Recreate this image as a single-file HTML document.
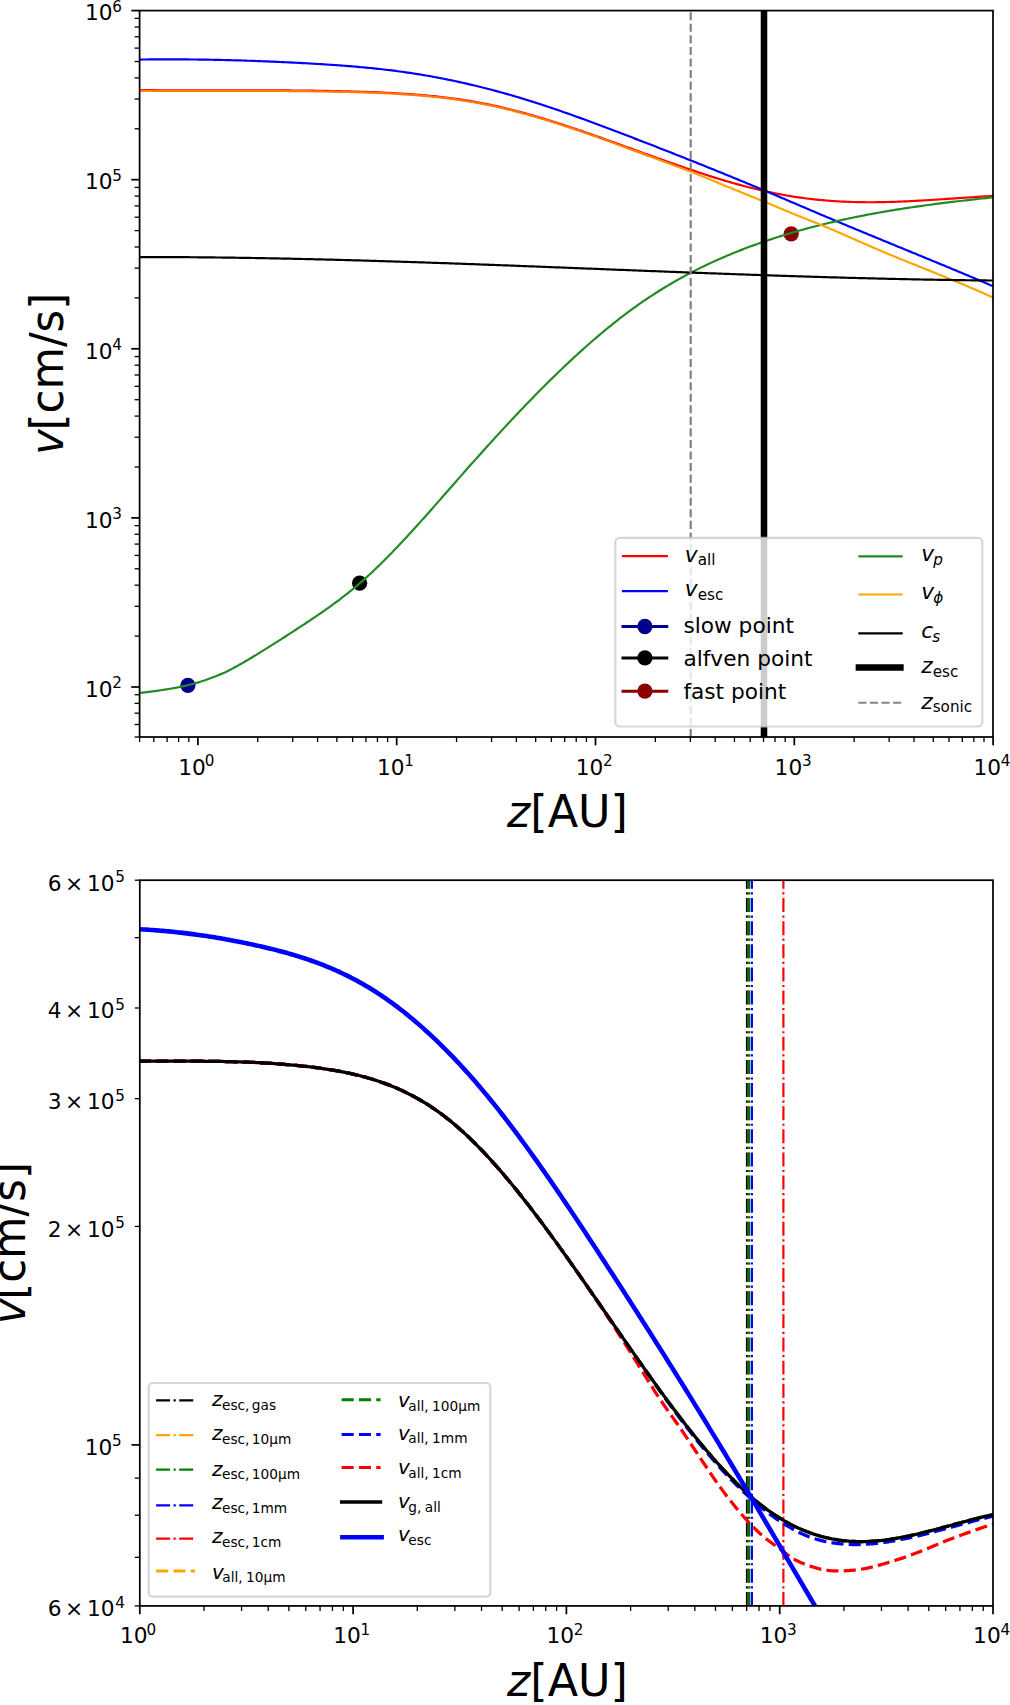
<!DOCTYPE html>
<html lang="en"><head><meta charset="utf-8"><title>wind velocity profiles</title>
<style>html,body{margin:0;padding:0;background:#fff}svg{display:block}</style></head>
<body>
<svg width="1010" height="1705" viewBox="0 0 1010 1705" font-family='"DejaVu Sans", "Liberation Sans", sans-serif' fill="#000">
<rect width="1010" height="1705" fill="#fff"/>
<defs><clipPath id="ct"><rect x="139.6" y="10.6" width="853.4" height="726.4"/></clipPath><clipPath id="cb"><rect x="139.8" y="880.2" width="853.2" height="725.7"/></clipPath><linearGradient id="og" gradientUnits="userSpaceOnUse" x1="620" y1="0" x2="710" y2="0"><stop offset="0" stop-color="#ff7c08"/><stop offset="1" stop-color="#ffa500"/></linearGradient></defs>
<g id="top-axes">
<g clip-path="url(#ct)" fill="none" stroke-linejoin="round">
<path d="M138.60 90.09 L140.59 90.11 L142.59 90.13 L144.58 90.14 L146.58 90.16 L148.57 90.17 L150.56 90.18 L152.56 90.19 L154.55 90.20 L156.55 90.21 L158.54 90.22 L160.53 90.23 L162.53 90.24 L164.52 90.25 L166.52 90.25 L168.51 90.26 L170.50 90.27 L172.50 90.27 L174.49 90.28 L176.48 90.28 L178.48 90.28 L180.47 90.29 L182.47 90.29 L184.46 90.29 L186.45 90.29 L188.45 90.29 L190.44 90.30 L192.44 90.30 L194.43 90.30 L196.42 90.30 L198.42 90.30 L200.41 90.30 L202.41 90.30 L204.40 90.30 L206.39 90.29 L208.39 90.29 L210.38 90.29 L212.38 90.29 L214.37 90.29 L216.36 90.29 L218.36 90.29 L220.35 90.29 L222.35 90.29 L224.34 90.28 L226.33 90.28 L228.33 90.28 L230.32 90.28 L232.32 90.28 L234.31 90.28 L236.30 90.28 L238.30 90.28 L240.29 90.28 L242.28 90.28 L244.28 90.28 L246.27 90.28 L248.27 90.29 L250.26 90.29 L252.25 90.29 L254.25 90.29 L256.24 90.30 L258.24 90.30 L260.23 90.31 L262.22 90.31 L264.22 90.32 L266.21 90.32 L268.21 90.33 L270.20 90.34 L272.19 90.35 L274.19 90.35 L276.18 90.36 L278.18 90.37 L280.17 90.38 L282.16 90.40 L284.16 90.41 L286.15 90.42 L288.15 90.44 L290.14 90.45 L292.13 90.47 L294.13 90.48 L296.12 90.50 L298.12 90.52 L300.11 90.54 L302.10 90.56 L304.10 90.58 L306.09 90.61 L308.08 90.63 L310.08 90.66 L312.07 90.68 L314.07 90.71 L316.06 90.74 L318.05 90.77 L320.05 90.80 L322.04 90.83 L324.04 90.87 L326.03 90.90 L328.02 90.94 L330.02 90.98 L332.01 91.02 L334.01 91.06 L336.00 91.10 L337.99 91.14 L339.99 91.19 L341.98 91.23 L343.98 91.28 L345.97 91.33 L347.96 91.38 L349.96 91.44 L351.95 91.49 L353.95 91.55 L355.94 91.61 L357.93 91.67 L359.93 91.73 L361.92 91.79 L363.92 91.85 L365.91 91.92 L367.90 91.99 L369.90 92.06 L371.89 92.14 L373.88 92.21 L375.88 92.29 L377.87 92.37 L379.87 92.46 L381.86 92.54 L383.85 92.63 L385.85 92.73 L387.84 92.82 L389.84 92.92 L391.83 93.03 L393.82 93.13 L395.82 93.25 L397.81 93.36 L399.81 93.48 L401.80 93.60 L403.79 93.73 L405.79 93.86 L407.78 93.99 L409.78 94.13 L411.77 94.28 L413.76 94.42 L415.76 94.58 L417.75 94.74 L419.75 94.90 L421.74 95.07 L423.73 95.24 L425.73 95.42 L427.72 95.61 L429.72 95.80 L431.71 95.99 L433.70 96.20 L435.70 96.40 L437.69 96.62 L439.68 96.84 L441.68 97.06 L443.67 97.30 L445.67 97.54 L447.66 97.78 L449.65 98.03 L451.65 98.29 L453.64 98.56 L455.64 98.83 L457.63 99.11 L459.62 99.40 L461.62 99.70 L463.61 100.00 L465.61 100.31 L467.60 100.63 L469.59 100.95 L471.59 101.28 L473.58 101.63 L475.58 101.98 L477.57 102.33 L479.56 102.70 L481.56 103.08 L483.55 103.46 L485.55 103.85 L487.54 104.25 L489.53 104.66 L491.53 105.08 L493.52 105.51 L495.52 105.94 L497.51 106.39 L499.50 106.84 L501.50 107.30 L503.49 107.77 L505.48 108.24 L507.48 108.73 L509.47 109.22 L511.47 109.71 L513.46 110.22 L515.45 110.73 L517.45 111.25 L519.44 111.78 L521.44 112.31 L523.43 112.85 L525.42 113.40 L527.42 113.95 L529.41 114.51 L531.41 115.08 L533.40 115.65 L535.39 116.23 L537.39 116.81 L539.38 117.40 L541.38 117.99 L543.37 118.60 L545.36 119.20 L547.36 119.81 L549.35 120.43 L551.35 121.05 L553.34 121.68 L555.33 122.31 L557.33 122.94 L559.32 123.58 L561.32 124.23 L563.31 124.87 L565.30 125.53 L567.30 126.18 L569.29 126.84 L571.28 127.51 L573.28 128.18 L575.27 128.85 L577.27 129.52 L579.26 130.20 L581.25 130.88 L583.25 131.57 L585.24 132.26 L587.24 132.95 L589.23 133.64 L591.22 134.34 L593.22 135.03 L595.21 135.73 L597.21 136.44 L599.20 137.14 L601.19 137.85 L603.19 138.56 L605.18 139.27 L607.18 139.98 L609.17 140.69 L611.16 141.41 L613.16 142.12 L615.15 142.84 L617.15 143.56 L619.14 144.28 L621.13 145.00 L623.13 145.72 L625.12 146.44 L627.12 147.16 L629.11 147.88 L631.10 148.60 L633.10 149.33 L635.09 150.05 L637.08 150.77 L639.08 151.49 L641.07 152.21 L643.07 152.93 L645.06 153.65 L647.05 154.37 L649.05 155.09 L651.04 155.81 L653.04 156.52 L655.03 157.24 L657.02 157.95 L659.02 158.67 L661.01 159.38 L663.01 160.09 L665.00 160.80 L666.99 161.50 L668.99 162.21 L670.98 162.91 L672.98 163.61 L674.97 164.31 L676.96 165.00 L678.96 165.70 L680.95 166.39 L682.95 167.08 L684.94 167.76 L686.93 168.44 L688.93 169.12 L690.92 169.80 L692.92 170.47 L694.91 171.14 L696.90 171.80 L698.90 172.47 L700.89 173.12 L702.88 173.77 L704.88 174.42 L706.87 175.07 L708.87 175.70 L710.86 176.34 L712.85 176.97 L714.85 177.59 L716.84 178.21 L718.84 178.82 L720.83 179.43 L722.82 180.03 L724.82 180.63 L726.81 181.22 L728.81 181.80 L730.80 182.38 L732.79 182.95 L734.79 183.52 L736.78 184.08 L738.78 184.63 L740.77 185.17 L742.76 185.71 L744.76 186.24 L746.75 186.76 L748.75 187.28 L750.74 187.79 L752.73 188.29 L754.73 188.78 L756.72 189.27 L758.72 189.75 L760.71 190.21 L762.70 190.68 L764.70 191.13 L766.69 191.57 L768.68 192.01 L770.68 192.43 L772.67 192.85 L774.67 193.26 L776.66 193.65 L778.65 194.04 L780.65 194.42 L782.64 194.79 L784.64 195.15 L786.63 195.50 L788.62 195.84 L790.62 196.17 L792.61 196.49 L794.61 196.80 L796.60 197.10 L798.59 197.40 L800.59 197.68 L802.58 197.95 L804.58 198.22 L806.57 198.47 L808.56 198.72 L810.56 198.95 L812.55 199.18 L814.55 199.40 L816.54 199.61 L818.53 199.81 L820.53 200.01 L822.52 200.19 L824.52 200.37 L826.51 200.53 L828.50 200.69 L830.50 200.84 L832.49 200.99 L834.48 201.12 L836.48 201.25 L838.47 201.36 L840.47 201.47 L842.46 201.58 L844.45 201.67 L846.45 201.76 L848.44 201.84 L850.44 201.91 L852.43 201.98 L854.42 202.03 L856.42 202.08 L858.41 202.12 L860.41 202.16 L862.40 202.19 L864.39 202.21 L866.39 202.22 L868.38 202.23 L870.38 202.23 L872.37 202.23 L874.36 202.22 L876.36 202.20 L878.35 202.18 L880.35 202.15 L882.34 202.11 L884.33 202.07 L886.33 202.03 L888.32 201.98 L890.32 201.92 L892.31 201.86 L894.30 201.80 L896.30 201.73 L898.29 201.66 L900.28 201.58 L902.28 201.50 L904.27 201.41 L906.27 201.32 L908.26 201.23 L910.25 201.13 L912.25 201.03 L914.24 200.93 L916.24 200.82 L918.23 200.71 L920.22 200.60 L922.22 200.49 L924.21 200.37 L926.21 200.25 L928.20 200.13 L930.19 200.00 L932.19 199.88 L934.18 199.75 L936.18 199.62 L938.17 199.49 L940.16 199.36 L942.16 199.23 L944.15 199.10 L946.15 198.96 L948.14 198.83 L950.13 198.69 L952.13 198.56 L954.12 198.42 L956.12 198.29 L958.11 198.15 L960.10 198.01 L962.10 197.88 L964.09 197.75 L966.08 197.61 L968.08 197.48 L970.07 197.35 L972.07 197.22 L974.06 197.09 L976.05 196.96 L978.05 196.83 L980.04 196.71 L982.04 196.58 L984.03 196.46 L986.02 196.34 L988.02 196.23 L990.01 196.11 L992.01 196.00 L994.00 195.89" stroke="#ff0000" stroke-width="2.18"/>
<path d="M138.60 59.58 L140.59 59.55 L142.59 59.52 L144.58 59.50 L146.58 59.48 L148.57 59.46 L150.56 59.44 L152.56 59.43 L154.55 59.41 L156.55 59.40 L158.54 59.39 L160.53 59.38 L162.53 59.37 L164.52 59.37 L166.52 59.37 L168.51 59.37 L170.50 59.37 L172.50 59.37 L174.49 59.37 L176.48 59.38 L178.48 59.39 L180.47 59.39 L182.47 59.41 L184.46 59.42 L186.45 59.43 L188.45 59.45 L190.44 59.47 L192.44 59.49 L194.43 59.51 L196.42 59.53 L198.42 59.56 L200.41 59.58 L202.41 59.61 L204.40 59.64 L206.39 59.67 L208.39 59.71 L210.38 59.74 L212.38 59.78 L214.37 59.82 L216.36 59.86 L218.36 59.90 L220.35 59.94 L222.35 59.99 L224.34 60.03 L226.33 60.08 L228.33 60.13 L230.32 60.18 L232.32 60.23 L234.31 60.29 L236.30 60.35 L238.30 60.40 L240.29 60.46 L242.28 60.52 L244.28 60.59 L246.27 60.65 L248.27 60.72 L250.26 60.78 L252.25 60.85 L254.25 60.92 L256.24 61.00 L258.24 61.07 L260.23 61.14 L262.22 61.22 L264.22 61.30 L266.21 61.38 L268.21 61.46 L270.20 61.54 L272.19 61.63 L274.19 61.71 L276.18 61.80 L278.18 61.89 L280.17 61.98 L282.16 62.07 L284.16 62.16 L286.15 62.26 L288.15 62.35 L290.14 62.45 L292.13 62.55 L294.13 62.65 L296.12 62.75 L298.12 62.86 L300.11 62.96 L302.10 63.07 L304.10 63.17 L306.09 63.28 L308.08 63.39 L310.08 63.51 L312.07 63.62 L314.07 63.73 L316.06 63.85 L318.05 63.97 L320.05 64.09 L322.04 64.21 L324.04 64.34 L326.03 64.47 L328.02 64.60 L330.02 64.73 L332.01 64.86 L334.01 65.00 L336.00 65.14 L337.99 65.28 L339.99 65.43 L341.98 65.58 L343.98 65.73 L345.97 65.88 L347.96 66.04 L349.96 66.20 L351.95 66.36 L353.95 66.53 L355.94 66.70 L357.93 66.87 L359.93 67.05 L361.92 67.23 L363.92 67.42 L365.91 67.61 L367.90 67.80 L369.90 68.00 L371.89 68.20 L373.88 68.40 L375.88 68.61 L377.87 68.82 L379.87 69.04 L381.86 69.26 L383.85 69.49 L385.85 69.72 L387.84 69.96 L389.84 70.20 L391.83 70.45 L393.82 70.70 L395.82 70.95 L397.81 71.21 L399.81 71.48 L401.80 71.75 L403.79 72.03 L405.79 72.31 L407.78 72.60 L409.78 72.89 L411.77 73.19 L413.76 73.50 L415.76 73.81 L417.75 74.13 L419.75 74.45 L421.74 74.78 L423.73 75.11 L425.73 75.45 L427.72 75.80 L429.72 76.15 L431.71 76.50 L433.70 76.87 L435.70 77.23 L437.69 77.61 L439.68 77.99 L441.68 78.37 L443.67 78.76 L445.67 79.16 L447.66 79.56 L449.65 79.97 L451.65 80.38 L453.64 80.80 L455.64 81.22 L457.63 81.65 L459.62 82.09 L461.62 82.53 L463.61 82.98 L465.61 83.43 L467.60 83.88 L469.59 84.35 L471.59 84.82 L473.58 85.29 L475.58 85.77 L477.57 86.25 L479.56 86.74 L481.56 87.24 L483.55 87.74 L485.55 88.25 L487.54 88.76 L489.53 89.27 L491.53 89.80 L493.52 90.32 L495.52 90.86 L497.51 91.40 L499.50 91.94 L501.50 92.49 L503.49 93.04 L505.48 93.60 L507.48 94.17 L509.47 94.74 L511.47 95.31 L513.46 95.89 L515.45 96.48 L517.45 97.07 L519.44 97.66 L521.44 98.27 L523.43 98.87 L525.42 99.48 L527.42 100.10 L529.41 100.72 L531.41 101.35 L533.40 101.98 L535.39 102.62 L537.39 103.26 L539.38 103.90 L541.38 104.55 L543.37 105.21 L545.36 105.87 L547.36 106.53 L549.35 107.20 L551.35 107.87 L553.34 108.54 L555.33 109.22 L557.33 109.90 L559.32 110.59 L561.32 111.28 L563.31 111.97 L565.30 112.67 L567.30 113.37 L569.29 114.07 L571.28 114.78 L573.28 115.49 L575.27 116.21 L577.27 116.92 L579.26 117.64 L581.25 118.36 L583.25 119.09 L585.24 119.81 L587.24 120.54 L589.23 121.28 L591.22 122.01 L593.22 122.75 L595.21 123.49 L597.21 124.23 L599.20 124.97 L601.19 125.72 L603.19 126.47 L605.18 127.22 L607.18 127.97 L609.17 128.72 L611.16 129.47 L613.16 130.23 L615.15 130.99 L617.15 131.75 L619.14 132.51 L621.13 133.27 L623.13 134.03 L625.12 134.79 L627.12 135.56 L629.11 136.32 L631.10 137.09 L633.10 137.85 L635.09 138.62 L637.08 139.39 L639.08 140.16 L641.07 140.93 L643.07 141.70 L645.06 142.47 L647.05 143.24 L649.05 144.02 L651.04 144.79 L653.04 145.57 L655.03 146.35 L657.02 147.12 L659.02 147.90 L661.01 148.68 L663.01 149.46 L665.00 150.24 L666.99 151.03 L668.99 151.81 L670.98 152.59 L672.98 153.38 L674.97 154.16 L676.96 154.95 L678.96 155.74 L680.95 156.53 L682.95 157.32 L684.94 158.11 L686.93 158.90 L688.93 159.70 L690.92 160.49 L692.92 161.29 L694.91 162.08 L696.90 162.88 L698.90 163.68 L700.89 164.48 L702.88 165.28 L704.88 166.08 L706.87 166.89 L708.87 167.69 L710.86 168.49 L712.85 169.30 L714.85 170.11 L716.84 170.92 L718.84 171.73 L720.83 172.54 L722.82 173.35 L724.82 174.16 L726.81 174.98 L728.81 175.79 L730.80 176.61 L732.79 177.42 L734.79 178.24 L736.78 179.06 L738.78 179.88 L740.77 180.71 L742.76 181.53 L744.76 182.35 L746.75 183.18 L748.75 184.01 L750.74 184.83 L752.73 185.66 L754.73 186.49 L756.72 187.33 L758.72 188.16 L760.71 188.99 L762.70 189.83 L764.70 190.66 L766.69 191.50 L768.68 192.34 L770.68 193.18 L772.67 194.02 L774.67 194.87 L776.66 195.71 L778.65 196.55 L780.65 197.40 L782.64 198.25 L784.64 199.10 L786.63 199.95 L788.62 200.80 L790.62 201.65 L792.61 202.50 L794.61 203.35 L796.60 204.20 L798.59 205.05 L800.59 205.90 L802.58 206.75 L804.58 207.60 L806.57 208.46 L808.56 209.31 L810.56 210.16 L812.55 211.01 L814.55 211.86 L816.54 212.71 L818.53 213.55 L820.53 214.40 L822.52 215.25 L824.52 216.09 L826.51 216.94 L828.50 217.78 L830.50 218.62 L832.49 219.46 L834.48 220.30 L836.48 221.14 L838.47 221.97 L840.47 222.81 L842.46 223.64 L844.45 224.48 L846.45 225.31 L848.44 226.14 L850.44 226.97 L852.43 227.80 L854.42 228.63 L856.42 229.46 L858.41 230.29 L860.41 231.11 L862.40 231.94 L864.39 232.76 L866.39 233.59 L868.38 234.41 L870.38 235.23 L872.37 236.06 L874.36 236.88 L876.36 237.70 L878.35 238.52 L880.35 239.34 L882.34 240.16 L884.33 240.99 L886.33 241.81 L888.32 242.62 L890.32 243.44 L892.31 244.26 L894.30 245.08 L896.30 245.90 L898.29 246.72 L900.28 247.54 L902.28 248.36 L904.27 249.18 L906.27 250.00 L908.26 250.82 L910.25 251.63 L912.25 252.45 L914.24 253.27 L916.24 254.09 L918.23 254.91 L920.22 255.73 L922.22 256.55 L924.21 257.37 L926.21 258.20 L928.20 259.02 L930.19 259.84 L932.19 260.66 L934.18 261.48 L936.18 262.31 L938.17 263.13 L940.16 263.96 L942.16 264.78 L944.15 265.61 L946.15 266.44 L948.14 267.26 L950.13 268.09 L952.13 268.92 L954.12 269.75 L956.12 270.58 L958.11 271.42 L960.10 272.25 L962.10 273.08 L964.09 273.92 L966.08 274.75 L968.08 275.59 L970.07 276.43 L972.07 277.27 L974.06 278.11 L976.05 278.95 L978.05 279.80 L980.04 280.64 L982.04 281.49 L984.03 282.33 L986.02 283.18 L988.02 284.03 L990.01 284.89 L992.01 285.74 L994.00 286.59" stroke="#0000ff" stroke-width="2.18"/>
</g>
<circle cx="187.9" cy="685.3" r="7.63" fill="#00008b"/>
<circle cx="359.6" cy="583.2" r="7.63" fill="#000000"/>
<circle cx="791.2" cy="233.8" r="7.63" fill="#8b0000"/>
<g clip-path="url(#ct)" fill="none" stroke-linejoin="round">
<path d="M138.60 692.99 L140.59 692.79 L142.59 692.59 L144.58 692.37 L146.58 692.14 L148.57 691.90 L150.56 691.65 L152.56 691.39 L154.55 691.13 L156.55 690.85 L158.54 690.56 L160.53 690.27 L162.53 689.97 L164.52 689.67 L166.52 689.36 L168.51 689.04 L170.50 688.71 L172.50 688.36 L174.49 688.01 L176.48 687.64 L178.48 687.26 L180.47 686.86 L182.47 686.44 L184.46 686.00 L186.45 685.54 L188.45 685.07 L190.44 684.56 L192.44 684.04 L194.43 683.49 L196.42 682.92 L198.42 682.33 L200.41 681.71 L202.41 681.07 L204.40 680.41 L206.39 679.73 L208.39 679.03 L210.38 678.30 L212.38 677.56 L214.37 676.79 L216.36 676.00 L218.36 675.20 L220.35 674.37 L222.35 673.52 L224.34 672.66 L226.33 671.77 L228.33 670.75 L230.32 669.70 L232.32 668.63 L234.31 667.55 L236.30 666.45 L238.30 665.34 L240.29 664.22 L242.28 663.09 L244.28 661.94 L246.27 660.78 L248.27 659.61 L250.26 658.44 L252.25 657.25 L254.25 656.05 L256.24 654.84 L258.24 653.63 L260.23 652.41 L262.22 651.18 L264.22 649.94 L266.21 648.69 L268.21 647.44 L270.20 646.18 L272.19 644.92 L274.19 643.65 L276.18 642.38 L278.18 641.11 L280.17 639.83 L282.16 638.54 L284.16 637.26 L286.15 635.97 L288.15 634.68 L290.14 633.38 L292.13 632.09 L294.13 630.79 L296.12 629.50 L298.12 628.20 L300.11 626.90 L302.10 625.60 L304.10 624.29 L306.09 622.98 L308.08 621.66 L310.08 620.34 L312.07 619.01 L314.07 617.67 L316.06 616.33 L318.05 614.97 L320.05 613.61 L322.04 612.23 L324.04 610.85 L326.03 609.45 L328.02 608.04 L330.02 606.61 L332.01 605.17 L334.01 603.72 L336.00 602.25 L337.99 600.76 L339.99 599.26 L341.98 597.74 L343.98 596.20 L345.97 594.64 L347.96 593.06 L349.96 591.47 L351.95 589.84 L353.95 588.20 L355.94 586.53 L357.93 584.84 L359.93 583.13 L361.92 581.39 L363.92 579.63 L365.91 577.84 L367.90 576.03 L369.90 574.19 L371.89 572.34 L373.88 570.46 L375.88 568.56 L377.87 566.64 L379.87 564.70 L381.86 562.74 L383.85 560.76 L385.85 558.77 L387.84 556.75 L389.84 554.72 L391.83 552.68 L393.82 550.61 L395.82 548.54 L397.81 546.44 L399.81 544.34 L401.80 542.22 L403.79 540.08 L405.79 537.94 L407.78 535.78 L409.78 533.61 L411.77 531.43 L413.76 529.24 L415.76 527.04 L417.75 524.83 L419.75 522.61 L421.74 520.39 L423.73 518.16 L425.73 515.92 L427.72 513.67 L429.72 511.42 L431.71 509.16 L433.70 506.90 L435.70 504.64 L437.69 502.37 L439.68 500.10 L441.68 497.83 L443.67 495.55 L445.67 493.28 L447.66 491.00 L449.65 488.73 L451.65 486.45 L453.64 484.18 L455.64 481.91 L457.63 479.64 L459.62 477.37 L461.62 475.11 L463.61 472.85 L465.61 470.59 L467.60 468.34 L469.59 466.09 L471.59 463.85 L473.58 461.61 L475.58 459.38 L477.57 457.15 L479.56 454.92 L481.56 452.70 L483.55 450.49 L485.55 448.27 L487.54 446.07 L489.53 443.87 L491.53 441.68 L493.52 439.49 L495.52 437.30 L497.51 435.13 L499.50 432.96 L501.50 430.79 L503.49 428.63 L505.48 426.48 L507.48 424.34 L509.47 422.20 L511.47 420.07 L513.46 417.94 L515.45 415.83 L517.45 413.72 L519.44 411.61 L521.44 409.52 L523.43 407.43 L525.42 405.35 L527.42 403.28 L529.41 401.22 L531.41 399.16 L533.40 397.12 L535.39 395.08 L537.39 393.05 L539.38 391.03 L541.38 389.02 L543.37 387.01 L545.36 385.02 L547.36 383.04 L549.35 381.06 L551.35 379.10 L553.34 377.14 L555.33 375.20 L557.33 373.26 L559.32 371.34 L561.32 369.42 L563.31 367.52 L565.30 365.62 L567.30 363.74 L569.29 361.87 L571.28 360.01 L573.28 358.16 L575.27 356.32 L577.27 354.49 L579.26 352.67 L581.25 350.87 L583.25 349.08 L585.24 347.29 L587.24 345.53 L589.23 343.77 L591.22 342.03 L593.22 340.29 L595.21 338.57 L597.21 336.87 L599.20 335.17 L601.19 333.49 L603.19 331.83 L605.18 330.17 L607.18 328.53 L609.17 326.91 L611.16 325.29 L613.16 323.69 L615.15 322.11 L617.15 320.54 L619.14 318.98 L621.13 317.44 L623.13 315.91 L625.12 314.39 L627.12 312.89 L629.11 311.41 L631.10 309.94 L633.10 308.49 L635.09 307.05 L637.08 305.63 L639.08 304.22 L641.07 302.83 L643.07 301.45 L645.06 300.09 L647.05 298.74 L649.05 297.41 L651.04 296.10 L653.04 294.80 L655.03 293.51 L657.02 292.24 L659.02 290.98 L661.01 289.73 L663.01 288.51 L665.00 287.29 L666.99 286.09 L668.99 284.90 L670.98 283.72 L672.98 282.56 L674.97 281.42 L676.96 280.28 L678.96 279.16 L680.95 278.05 L682.95 276.95 L684.94 275.87 L686.93 274.80 L688.93 273.74 L690.92 272.70 L692.92 271.66 L694.91 270.64 L696.90 269.63 L698.90 268.63 L700.89 267.64 L702.88 266.67 L704.88 265.70 L706.87 264.75 L708.87 263.81 L710.86 262.88 L712.85 261.96 L714.85 261.05 L716.84 260.15 L718.84 259.26 L720.83 258.38 L722.82 257.51 L724.82 256.65 L726.81 255.81 L728.81 254.97 L730.80 254.14 L732.79 253.32 L734.79 252.51 L736.78 251.71 L738.78 250.92 L740.77 250.13 L742.76 249.36 L744.76 248.59 L746.75 247.84 L748.75 247.09 L750.74 246.35 L752.73 245.62 L754.73 244.89 L756.72 244.18 L758.72 243.47 L760.71 242.77 L762.70 242.07 L764.70 241.39 L766.69 240.71 L768.68 240.04 L770.68 239.37 L772.67 238.72 L774.67 238.07 L776.66 237.43 L778.65 236.79 L780.65 236.16 L782.64 235.54 L784.64 234.93 L786.63 234.32 L788.62 233.72 L790.62 233.12 L792.61 232.54 L794.61 231.95 L796.60 231.38 L798.59 230.81 L800.59 230.25 L802.58 229.69 L804.58 229.14 L806.57 228.60 L808.56 228.07 L810.56 227.53 L812.55 227.01 L814.55 226.49 L816.54 225.98 L818.53 225.47 L820.53 224.97 L822.52 224.48 L824.52 223.99 L826.51 223.50 L828.50 223.02 L830.50 222.55 L832.49 222.08 L834.48 221.62 L836.48 221.17 L838.47 220.71 L840.47 220.27 L842.46 219.83 L844.45 219.39 L846.45 218.96 L848.44 218.54 L850.44 218.12 L852.43 217.70 L854.42 217.29 L856.42 216.89 L858.41 216.48 L860.41 216.09 L862.40 215.70 L864.39 215.31 L866.39 214.93 L868.38 214.55 L870.38 214.17 L872.37 213.81 L874.36 213.44 L876.36 213.08 L878.35 212.72 L880.35 212.37 L882.34 212.02 L884.33 211.68 L886.33 211.34 L888.32 211.00 L890.32 210.67 L892.31 210.34 L894.30 210.01 L896.30 209.69 L898.29 209.37 L900.28 209.06 L902.28 208.75 L904.27 208.44 L906.27 208.14 L908.26 207.84 L910.25 207.54 L912.25 207.24 L914.24 206.95 L916.24 206.66 L918.23 206.38 L920.22 206.10 L922.22 205.82 L924.21 205.54 L926.21 205.27 L928.20 205.00 L930.19 204.73 L932.19 204.46 L934.18 204.20 L936.18 203.94 L938.17 203.68 L940.16 203.43 L942.16 203.17 L944.15 202.92 L946.15 202.68 L948.14 202.43 L950.13 202.19 L952.13 201.94 L954.12 201.70 L956.12 201.47 L958.11 201.23 L960.10 200.99 L962.10 200.76 L964.09 200.53 L966.08 200.30 L968.08 200.07 L970.07 199.85 L972.07 199.62 L974.06 199.40 L976.05 199.18 L978.05 198.96 L980.04 198.74 L982.04 198.52 L984.03 198.31 L986.02 198.09 L988.02 197.88 L990.01 197.66 L992.01 197.45 L994.00 197.24" stroke="#228b22" stroke-width="2.18"/>
<path d="M138.60 90.69 L140.59 90.71 L142.59 90.73 L144.58 90.74 L146.58 90.76 L148.57 90.77 L150.56 90.78 L152.56 90.79 L154.55 90.80 L156.55 90.81 L158.54 90.82 L160.53 90.83 L162.53 90.84 L164.52 90.85 L166.52 90.85 L168.51 90.86 L170.50 90.87 L172.50 90.87 L174.49 90.88 L176.48 90.88 L178.48 90.88 L180.47 90.89 L182.47 90.89 L184.46 90.89 L186.45 90.89 L188.45 90.89 L190.44 90.90 L192.44 90.90 L194.43 90.90 L196.42 90.90 L198.42 90.90 L200.41 90.90 L202.41 90.90 L204.40 90.90 L206.39 90.89 L208.39 90.89 L210.38 90.89 L212.38 90.89 L214.37 90.89 L216.36 90.89 L218.36 90.89 L220.35 90.89 L222.35 90.89 L224.34 90.88 L226.33 90.88 L228.33 90.88 L230.32 90.88 L232.32 90.88 L234.31 90.88 L236.30 90.88 L238.30 90.88 L240.29 90.88 L242.28 90.88 L244.28 90.88 L246.27 90.88 L248.27 90.89 L250.26 90.89 L252.25 90.89 L254.25 90.89 L256.24 90.90 L258.24 90.90 L260.23 90.91 L262.22 90.91 L264.22 90.92 L266.21 90.92 L268.21 90.93 L270.20 90.94 L272.19 90.95 L274.19 90.95 L276.18 90.96 L278.18 90.97 L280.17 90.98 L282.16 91.00 L284.16 91.01 L286.15 91.02 L288.15 91.04 L290.14 91.05 L292.13 91.07 L294.13 91.08 L296.12 91.10 L298.12 91.12 L300.11 91.14 L302.10 91.16 L304.10 91.18 L306.09 91.21 L308.08 91.23 L310.08 91.26 L312.07 91.28 L314.07 91.31 L316.06 91.34 L318.05 91.37 L320.05 91.40 L322.04 91.43 L324.04 91.47 L326.03 91.50 L328.02 91.54 L330.02 91.58 L332.01 91.62 L334.01 91.66 L336.00 91.70 L337.99 91.74 L339.99 91.79 L341.98 91.83 L343.98 91.88 L345.97 91.93 L347.96 91.98 L349.96 92.04 L351.95 92.09 L353.95 92.15 L355.94 92.21 L357.93 92.27 L359.93 92.33 L361.92 92.39 L363.92 92.45 L365.91 92.52 L367.90 92.59 L369.90 92.66 L371.89 92.74 L373.88 92.81 L375.88 92.89 L377.87 92.97 L379.87 93.06 L381.86 93.14 L383.85 93.23 L385.85 93.33 L387.84 93.42 L389.84 93.52 L391.83 93.63 L393.82 93.73 L395.82 93.85 L397.81 93.96 L399.81 94.08 L401.80 94.20 L403.79 94.33 L405.79 94.46 L407.78 94.59 L409.78 94.73 L411.77 94.88 L413.76 95.02 L415.76 95.18 L417.75 95.34 L419.75 95.50 L421.74 95.67 L423.73 95.84 L425.73 96.02 L427.72 96.21 L429.72 96.40 L431.71 96.59 L433.70 96.80 L435.70 97.00 L437.69 97.22 L439.68 97.44 L441.68 97.66 L443.67 97.90 L445.67 98.14 L447.66 98.38 L449.65 98.63 L451.65 98.89 L453.64 99.16 L455.64 99.43 L457.63 99.71 L459.62 100.00 L461.62 100.30 L463.61 100.60 L465.61 100.91 L467.60 101.23 L469.59 101.55 L471.59 101.88 L473.58 102.23 L475.58 102.58 L477.57 102.93 L479.56 103.30 L481.56 103.68 L483.55 104.06 L485.55 104.45 L487.54 104.85 L489.53 105.26 L491.53 105.68 L493.52 106.11 L495.52 106.54 L497.51 106.99 L499.50 107.44 L501.50 107.90 L503.49 108.37 L505.48 108.84 L507.48 109.33 L509.47 109.82 L511.47 110.31 L513.46 110.82 L515.45 111.33 L517.45 111.85 L519.44 112.38 L521.44 112.91 L523.43 113.45 L525.42 114.00 L527.42 114.55 L529.41 115.11 L531.41 115.68 L533.40 116.25 L535.39 116.83 L537.39 117.41 L539.38 118.00 L541.38 118.59 L543.37 119.20 L545.36 119.80 L547.36 120.41 L549.35 121.03 L551.35 121.65 L553.34 122.28 L555.33 122.91 L557.33 123.54 L559.32 124.18 L561.32 124.83 L563.31 125.47 L565.30 126.13 L567.30 126.78 L569.29 127.44 L571.28 128.11 L573.28 128.78 L575.27 129.45 L577.27 130.12 L579.26 130.80 L581.25 131.48 L583.25 132.17 L585.24 132.86 L587.24 133.55 L589.23 134.24 L591.22 134.94 L593.22 135.63 L595.21 136.33 L597.21 137.04 L599.20 137.74 L601.19 138.45 L603.19 139.16 L605.18 139.88 L607.18 140.59 L609.17 141.32 L611.16 142.04 L613.16 142.77 L615.15 143.50 L617.15 144.23 L619.14 144.97 L621.13 145.70 L623.13 146.44 L625.12 147.18 L627.12 147.92 L629.11 148.67 L631.10 149.41 L633.10 150.15 L635.09 150.89 L637.08 151.64 L639.08 152.38 L641.07 153.12 L643.07 153.87 L645.06 154.61 L647.05 155.36 L649.05 156.10 L651.04 156.85 L653.04 157.59 L655.03 158.34 L657.02 159.08 L659.02 159.83 L661.01 160.58 L663.01 161.32 L665.00 162.07 L666.99 162.82 L668.99 163.57 L670.98 164.31 L672.98 165.06 L674.97 165.81 L676.96 166.56 L678.96 167.30 L680.95 168.05 L682.95 168.80 L684.94 169.54 L686.93 170.29 L688.93 171.04 L690.92 171.78 L692.92 172.54 L694.91 173.31 L696.90 174.09 L698.90 174.89 L700.89 175.69 L702.88 176.51 L704.88 177.33 L706.87 178.16 L708.87 178.99 L710.86 179.83 L712.85 180.66 L714.85 181.50 L716.84 182.34 L718.84 183.17 L720.83 184.00 L722.82 184.83 L724.82 185.64 L726.81 186.45 L728.81 187.26 L730.80 188.07 L732.79 188.88 L734.79 189.69 L736.78 190.50 L738.78 191.31 L740.77 192.12 L742.76 192.93 L744.76 193.74 L746.75 194.56 L748.75 195.37 L750.74 196.18 L752.73 196.99 L754.73 197.80 L756.72 198.60 L758.72 199.41 L760.71 200.22 L762.70 201.03 L764.70 201.84 L766.69 202.67 L768.68 203.49 L770.68 204.33 L772.67 205.16 L774.67 206.00 L776.66 206.84 L778.65 207.68 L780.65 208.52 L782.64 209.36 L784.64 210.20 L786.63 211.03 L788.62 211.86 L790.62 212.69 L792.61 213.51 L794.61 214.33 L796.60 215.14 L798.59 215.94 L800.59 216.73 L802.58 217.53 L804.58 218.32 L806.57 219.11 L808.56 219.90 L810.56 220.70 L812.55 221.49 L814.55 222.29 L816.54 223.10 L818.53 223.90 L820.53 224.72 L822.52 225.54 L824.52 226.36 L826.51 227.20 L828.50 228.04 L830.50 228.88 L832.49 229.73 L834.48 230.58 L836.48 231.44 L838.47 232.30 L840.47 233.16 L842.46 234.03 L844.45 234.90 L846.45 235.77 L848.44 236.64 L850.44 237.51 L852.43 238.39 L854.42 239.26 L856.42 240.14 L858.41 241.02 L860.41 241.89 L862.40 242.77 L864.39 243.64 L866.39 244.52 L868.38 245.39 L870.38 246.26 L872.37 247.13 L874.36 248.00 L876.36 248.86 L878.35 249.72 L880.35 250.58 L882.34 251.43 L884.33 252.29 L886.33 253.13 L888.32 253.98 L890.32 254.82 L892.31 255.65 L894.30 256.48 L896.30 257.31 L898.29 258.13 L900.28 258.94 L902.28 259.75 L904.27 260.55 L906.27 261.35 L908.26 262.14 L910.25 262.94 L912.25 263.74 L914.24 264.53 L916.24 265.33 L918.23 266.13 L920.22 266.92 L922.22 267.72 L924.21 268.52 L926.21 269.32 L928.20 270.12 L930.19 270.92 L932.19 271.72 L934.18 272.53 L936.18 273.33 L938.17 274.14 L940.16 274.95 L942.16 275.76 L944.15 276.57 L946.15 277.39 L948.14 278.21 L950.13 279.03 L952.13 279.85 L954.12 280.68 L956.12 281.50 L958.11 282.34 L960.10 283.17 L962.10 284.01 L964.09 284.85 L966.08 285.70 L968.08 286.55 L970.07 287.40 L972.07 288.26 L974.06 289.12 L976.05 289.98 L978.05 290.85 L980.04 291.73 L982.04 292.61 L984.03 293.49 L986.02 294.38 L988.02 295.28 L990.01 296.18 L992.01 297.08 L994.00 297.99" stroke="url(#og)" stroke-width="2.18"/>
<path d="M138.60 257.04 L140.59 257.04 L142.59 257.04 L144.58 257.04 L146.58 257.04 L148.57 257.04 L150.56 257.04 L152.56 257.05 L154.55 257.05 L156.55 257.05 L158.54 257.06 L160.53 257.06 L162.53 257.07 L164.52 257.08 L166.52 257.09 L168.51 257.09 L170.50 257.10 L172.50 257.11 L174.49 257.12 L176.48 257.13 L178.48 257.14 L180.47 257.16 L182.47 257.17 L184.46 257.18 L186.45 257.20 L188.45 257.21 L190.44 257.23 L192.44 257.24 L194.43 257.26 L196.42 257.28 L198.42 257.29 L200.41 257.31 L202.41 257.33 L204.40 257.35 L206.39 257.37 L208.39 257.39 L210.38 257.41 L212.38 257.43 L214.37 257.46 L216.36 257.48 L218.36 257.50 L220.35 257.53 L222.35 257.55 L224.34 257.58 L226.33 257.60 L228.33 257.63 L230.32 257.66 L232.32 257.68 L234.31 257.71 L236.30 257.74 L238.30 257.77 L240.29 257.80 L242.28 257.83 L244.28 257.86 L246.27 257.89 L248.27 257.92 L250.26 257.96 L252.25 257.99 L254.25 258.02 L256.24 258.06 L258.24 258.09 L260.23 258.13 L262.22 258.16 L264.22 258.20 L266.21 258.23 L268.21 258.27 L270.20 258.31 L272.19 258.35 L274.19 258.39 L276.18 258.42 L278.18 258.46 L280.17 258.50 L282.16 258.54 L284.16 258.58 L286.15 258.63 L288.15 258.67 L290.14 258.71 L292.13 258.75 L294.13 258.80 L296.12 258.84 L298.12 258.88 L300.11 258.93 L302.10 258.97 L304.10 259.02 L306.09 259.07 L308.08 259.11 L310.08 259.16 L312.07 259.21 L314.07 259.25 L316.06 259.30 L318.05 259.35 L320.05 259.40 L322.04 259.45 L324.04 259.50 L326.03 259.55 L328.02 259.60 L330.02 259.65 L332.01 259.70 L334.01 259.75 L336.00 259.81 L337.99 259.86 L339.99 259.91 L341.98 259.97 L343.98 260.02 L345.97 260.07 L347.96 260.13 L349.96 260.18 L351.95 260.24 L353.95 260.29 L355.94 260.35 L357.93 260.41 L359.93 260.46 L361.92 260.52 L363.92 260.58 L365.91 260.64 L367.90 260.69 L369.90 260.75 L371.89 260.81 L373.88 260.87 L375.88 260.93 L377.87 260.99 L379.87 261.05 L381.86 261.11 L383.85 261.17 L385.85 261.23 L387.84 261.30 L389.84 261.36 L391.83 261.42 L393.82 261.48 L395.82 261.54 L397.81 261.61 L399.81 261.67 L401.80 261.73 L403.79 261.80 L405.79 261.86 L407.78 261.93 L409.78 261.99 L411.77 262.06 L413.76 262.12 L415.76 262.19 L417.75 262.25 L419.75 262.32 L421.74 262.39 L423.73 262.45 L425.73 262.52 L427.72 262.59 L429.72 262.66 L431.71 262.72 L433.70 262.79 L435.70 262.86 L437.69 262.93 L439.68 263.00 L441.68 263.07 L443.67 263.14 L445.67 263.21 L447.66 263.28 L449.65 263.35 L451.65 263.42 L453.64 263.49 L455.64 263.56 L457.63 263.63 L459.62 263.70 L461.62 263.77 L463.61 263.84 L465.61 263.91 L467.60 263.99 L469.59 264.06 L471.59 264.13 L473.58 264.20 L475.58 264.27 L477.57 264.35 L479.56 264.42 L481.56 264.49 L483.55 264.57 L485.55 264.64 L487.54 264.71 L489.53 264.79 L491.53 264.86 L493.52 264.94 L495.52 265.01 L497.51 265.08 L499.50 265.16 L501.50 265.23 L503.49 265.31 L505.48 265.38 L507.48 265.46 L509.47 265.53 L511.47 265.61 L513.46 265.69 L515.45 265.76 L517.45 265.84 L519.44 265.91 L521.44 265.99 L523.43 266.07 L525.42 266.14 L527.42 266.22 L529.41 266.30 L531.41 266.37 L533.40 266.45 L535.39 266.53 L537.39 266.60 L539.38 266.68 L541.38 266.76 L543.37 266.83 L545.36 266.91 L547.36 266.99 L549.35 267.07 L551.35 267.14 L553.34 267.22 L555.33 267.30 L557.33 267.38 L559.32 267.45 L561.32 267.53 L563.31 267.61 L565.30 267.69 L567.30 267.77 L569.29 267.84 L571.28 267.92 L573.28 268.00 L575.27 268.08 L577.27 268.16 L579.26 268.23 L581.25 268.31 L583.25 268.39 L585.24 268.47 L587.24 268.55 L589.23 268.63 L591.22 268.70 L593.22 268.78 L595.21 268.86 L597.21 268.94 L599.20 269.02 L601.19 269.09 L603.19 269.17 L605.18 269.25 L607.18 269.33 L609.17 269.41 L611.16 269.49 L613.16 269.56 L615.15 269.64 L617.15 269.72 L619.14 269.80 L621.13 269.88 L623.13 269.96 L625.12 270.03 L627.12 270.11 L629.11 270.19 L631.10 270.27 L633.10 270.34 L635.09 270.42 L637.08 270.50 L639.08 270.58 L641.07 270.66 L643.07 270.73 L645.06 270.81 L647.05 270.89 L649.05 270.97 L651.04 271.04 L653.04 271.12 L655.03 271.20 L657.02 271.27 L659.02 271.35 L661.01 271.43 L663.01 271.50 L665.00 271.58 L666.99 271.66 L668.99 271.73 L670.98 271.81 L672.98 271.89 L674.97 271.96 L676.96 272.04 L678.96 272.11 L680.95 272.19 L682.95 272.26 L684.94 272.34 L686.93 272.42 L688.93 272.49 L690.92 272.57 L692.92 272.64 L694.91 272.71 L696.90 272.79 L698.90 272.86 L700.89 272.94 L702.88 273.01 L704.88 273.09 L706.87 273.16 L708.87 273.23 L710.86 273.31 L712.85 273.38 L714.85 273.45 L716.84 273.53 L718.84 273.60 L720.83 273.67 L722.82 273.74 L724.82 273.82 L726.81 273.89 L728.81 273.96 L730.80 274.03 L732.79 274.10 L734.79 274.17 L736.78 274.24 L738.78 274.32 L740.77 274.39 L742.76 274.46 L744.76 274.53 L746.75 274.60 L748.75 274.67 L750.74 274.73 L752.73 274.80 L754.73 274.87 L756.72 274.94 L758.72 275.01 L760.71 275.08 L762.70 275.15 L764.70 275.21 L766.69 275.28 L768.68 275.35 L770.68 275.42 L772.67 275.48 L774.67 275.55 L776.66 275.61 L778.65 275.68 L780.65 275.75 L782.64 275.81 L784.64 275.88 L786.63 275.94 L788.62 276.01 L790.62 276.07 L792.61 276.13 L794.61 276.20 L796.60 276.26 L798.59 276.32 L800.59 276.39 L802.58 276.45 L804.58 276.51 L806.57 276.57 L808.56 276.63 L810.56 276.69 L812.55 276.75 L814.55 276.82 L816.54 276.88 L818.53 276.94 L820.53 276.99 L822.52 277.05 L824.52 277.11 L826.51 277.17 L828.50 277.23 L830.50 277.29 L832.49 277.34 L834.48 277.40 L836.48 277.46 L838.47 277.51 L840.47 277.57 L842.46 277.62 L844.45 277.68 L846.45 277.73 L848.44 277.79 L850.44 277.84 L852.43 277.90 L854.42 277.95 L856.42 278.00 L858.41 278.06 L860.41 278.11 L862.40 278.16 L864.39 278.21 L866.39 278.26 L868.38 278.31 L870.38 278.36 L872.37 278.41 L874.36 278.46 L876.36 278.51 L878.35 278.56 L880.35 278.60 L882.34 278.65 L884.33 278.70 L886.33 278.75 L888.32 278.79 L890.32 278.84 L892.31 278.88 L894.30 278.93 L896.30 278.97 L898.29 279.02 L900.28 279.06 L902.28 279.10 L904.27 279.15 L906.27 279.19 L908.26 279.23 L910.25 279.27 L912.25 279.31 L914.24 279.35 L916.24 279.39 L918.23 279.43 L920.22 279.47 L922.22 279.51 L924.21 279.54 L926.21 279.58 L928.20 279.62 L930.19 279.65 L932.19 279.69 L934.18 279.73 L936.18 279.76 L938.17 279.79 L940.16 279.83 L942.16 279.86 L944.15 279.89 L946.15 279.93 L948.14 279.96 L950.13 279.99 L952.13 280.02 L954.12 280.05 L956.12 280.08 L958.11 280.11 L960.10 280.14 L962.10 280.16 L964.09 280.19 L966.08 280.22 L968.08 280.24 L970.07 280.27 L972.07 280.29 L974.06 280.32 L976.05 280.34 L978.05 280.36 L980.04 280.39 L982.04 280.41 L984.03 280.43 L986.02 280.45 L988.02 280.47 L990.01 280.49 L992.01 280.51 L994.00 280.53" stroke="#000" stroke-width="2.18"/>
<line x1="764.00" y1="10.60" x2="764.00" y2="737.00" stroke="#000" stroke-width="6.54" />
<line x1="690.70" y1="737.00" x2="690.70" y2="10.60" stroke="#808080" stroke-width="2.18" stroke-dasharray="8.07 3.49"/>
</g>
<g id="top-ticks">
<line x1="197.90" y1="737.00" x2="197.90" y2="745.30" stroke="#000" stroke-width="1.74" />
<line x1="396.70" y1="737.00" x2="396.70" y2="745.30" stroke="#000" stroke-width="1.74" />
<line x1="595.50" y1="737.00" x2="595.50" y2="745.30" stroke="#000" stroke-width="1.74" />
<line x1="794.30" y1="737.00" x2="794.30" y2="745.30" stroke="#000" stroke-width="1.74" />
<line x1="993.10" y1="737.00" x2="993.10" y2="745.30" stroke="#000" stroke-width="1.74" />
<line x1="153.80" y1="737.00" x2="153.80" y2="742.00" stroke="#000" stroke-width="1.31" />
<line x1="167.11" y1="737.00" x2="167.11" y2="742.00" stroke="#000" stroke-width="1.31" />
<line x1="178.63" y1="737.00" x2="178.63" y2="742.00" stroke="#000" stroke-width="1.31" />
<line x1="188.80" y1="737.00" x2="188.80" y2="742.00" stroke="#000" stroke-width="1.31" />
<line x1="257.74" y1="737.00" x2="257.74" y2="742.00" stroke="#000" stroke-width="1.31" />
<line x1="292.75" y1="737.00" x2="292.75" y2="742.00" stroke="#000" stroke-width="1.31" />
<line x1="317.59" y1="737.00" x2="317.59" y2="742.00" stroke="#000" stroke-width="1.31" />
<line x1="336.86" y1="737.00" x2="336.86" y2="742.00" stroke="#000" stroke-width="1.31" />
<line x1="352.60" y1="737.00" x2="352.60" y2="742.00" stroke="#000" stroke-width="1.31" />
<line x1="365.91" y1="737.00" x2="365.91" y2="742.00" stroke="#000" stroke-width="1.31" />
<line x1="377.43" y1="737.00" x2="377.43" y2="742.00" stroke="#000" stroke-width="1.31" />
<line x1="387.60" y1="737.00" x2="387.60" y2="742.00" stroke="#000" stroke-width="1.31" />
<line x1="456.54" y1="737.00" x2="456.54" y2="742.00" stroke="#000" stroke-width="1.31" />
<line x1="491.55" y1="737.00" x2="491.55" y2="742.00" stroke="#000" stroke-width="1.31" />
<line x1="516.39" y1="737.00" x2="516.39" y2="742.00" stroke="#000" stroke-width="1.31" />
<line x1="535.66" y1="737.00" x2="535.66" y2="742.00" stroke="#000" stroke-width="1.31" />
<line x1="551.40" y1="737.00" x2="551.40" y2="742.00" stroke="#000" stroke-width="1.31" />
<line x1="564.71" y1="737.00" x2="564.71" y2="742.00" stroke="#000" stroke-width="1.31" />
<line x1="576.23" y1="737.00" x2="576.23" y2="742.00" stroke="#000" stroke-width="1.31" />
<line x1="586.40" y1="737.00" x2="586.40" y2="742.00" stroke="#000" stroke-width="1.31" />
<line x1="655.34" y1="737.00" x2="655.34" y2="742.00" stroke="#000" stroke-width="1.31" />
<line x1="690.35" y1="737.00" x2="690.35" y2="742.00" stroke="#000" stroke-width="1.31" />
<line x1="715.19" y1="737.00" x2="715.19" y2="742.00" stroke="#000" stroke-width="1.31" />
<line x1="734.46" y1="737.00" x2="734.46" y2="742.00" stroke="#000" stroke-width="1.31" />
<line x1="750.20" y1="737.00" x2="750.20" y2="742.00" stroke="#000" stroke-width="1.31" />
<line x1="763.51" y1="737.00" x2="763.51" y2="742.00" stroke="#000" stroke-width="1.31" />
<line x1="775.03" y1="737.00" x2="775.03" y2="742.00" stroke="#000" stroke-width="1.31" />
<line x1="785.20" y1="737.00" x2="785.20" y2="742.00" stroke="#000" stroke-width="1.31" />
<line x1="854.14" y1="737.00" x2="854.14" y2="742.00" stroke="#000" stroke-width="1.31" />
<line x1="889.15" y1="737.00" x2="889.15" y2="742.00" stroke="#000" stroke-width="1.31" />
<line x1="913.99" y1="737.00" x2="913.99" y2="742.00" stroke="#000" stroke-width="1.31" />
<line x1="933.26" y1="737.00" x2="933.26" y2="742.00" stroke="#000" stroke-width="1.31" />
<line x1="949.00" y1="737.00" x2="949.00" y2="742.00" stroke="#000" stroke-width="1.31" />
<line x1="962.31" y1="737.00" x2="962.31" y2="742.00" stroke="#000" stroke-width="1.31" />
<line x1="973.83" y1="737.00" x2="973.83" y2="742.00" stroke="#000" stroke-width="1.31" />
<line x1="984.00" y1="737.00" x2="984.00" y2="742.00" stroke="#000" stroke-width="1.31" />
<line x1="139.60" y1="737.00" x2="139.60" y2="742.00" stroke="#000" stroke-width="1.31" />
<line x1="131.30" y1="687.00" x2="139.60" y2="687.00" stroke="#000" stroke-width="1.74" />
<line x1="131.30" y1="517.90" x2="139.60" y2="517.90" stroke="#000" stroke-width="1.74" />
<line x1="131.30" y1="348.80" x2="139.60" y2="348.80" stroke="#000" stroke-width="1.74" />
<line x1="131.30" y1="179.70" x2="139.60" y2="179.70" stroke="#000" stroke-width="1.74" />
<line x1="131.30" y1="10.60" x2="139.60" y2="10.60" stroke="#000" stroke-width="1.74" />
<line x1="134.60" y1="724.51" x2="139.60" y2="724.51" stroke="#000" stroke-width="1.31" />
<line x1="134.60" y1="713.19" x2="139.60" y2="713.19" stroke="#000" stroke-width="1.31" />
<line x1="134.60" y1="703.39" x2="139.60" y2="703.39" stroke="#000" stroke-width="1.31" />
<line x1="134.60" y1="694.74" x2="139.60" y2="694.74" stroke="#000" stroke-width="1.31" />
<line x1="134.60" y1="636.10" x2="139.60" y2="636.10" stroke="#000" stroke-width="1.31" />
<line x1="134.60" y1="606.32" x2="139.60" y2="606.32" stroke="#000" stroke-width="1.31" />
<line x1="134.60" y1="585.19" x2="139.60" y2="585.19" stroke="#000" stroke-width="1.31" />
<line x1="134.60" y1="568.80" x2="139.60" y2="568.80" stroke="#000" stroke-width="1.31" />
<line x1="134.60" y1="555.41" x2="139.60" y2="555.41" stroke="#000" stroke-width="1.31" />
<line x1="134.60" y1="544.09" x2="139.60" y2="544.09" stroke="#000" stroke-width="1.31" />
<line x1="134.60" y1="534.29" x2="139.60" y2="534.29" stroke="#000" stroke-width="1.31" />
<line x1="134.60" y1="525.64" x2="139.60" y2="525.64" stroke="#000" stroke-width="1.31" />
<line x1="134.60" y1="467.00" x2="139.60" y2="467.00" stroke="#000" stroke-width="1.31" />
<line x1="134.60" y1="437.22" x2="139.60" y2="437.22" stroke="#000" stroke-width="1.31" />
<line x1="134.60" y1="416.09" x2="139.60" y2="416.09" stroke="#000" stroke-width="1.31" />
<line x1="134.60" y1="399.70" x2="139.60" y2="399.70" stroke="#000" stroke-width="1.31" />
<line x1="134.60" y1="386.31" x2="139.60" y2="386.31" stroke="#000" stroke-width="1.31" />
<line x1="134.60" y1="374.99" x2="139.60" y2="374.99" stroke="#000" stroke-width="1.31" />
<line x1="134.60" y1="365.19" x2="139.60" y2="365.19" stroke="#000" stroke-width="1.31" />
<line x1="134.60" y1="356.54" x2="139.60" y2="356.54" stroke="#000" stroke-width="1.31" />
<line x1="134.60" y1="297.90" x2="139.60" y2="297.90" stroke="#000" stroke-width="1.31" />
<line x1="134.60" y1="268.12" x2="139.60" y2="268.12" stroke="#000" stroke-width="1.31" />
<line x1="134.60" y1="246.99" x2="139.60" y2="246.99" stroke="#000" stroke-width="1.31" />
<line x1="134.60" y1="230.60" x2="139.60" y2="230.60" stroke="#000" stroke-width="1.31" />
<line x1="134.60" y1="217.21" x2="139.60" y2="217.21" stroke="#000" stroke-width="1.31" />
<line x1="134.60" y1="205.89" x2="139.60" y2="205.89" stroke="#000" stroke-width="1.31" />
<line x1="134.60" y1="196.09" x2="139.60" y2="196.09" stroke="#000" stroke-width="1.31" />
<line x1="134.60" y1="187.44" x2="139.60" y2="187.44" stroke="#000" stroke-width="1.31" />
<line x1="134.60" y1="128.80" x2="139.60" y2="128.80" stroke="#000" stroke-width="1.31" />
<line x1="134.60" y1="99.02" x2="139.60" y2="99.02" stroke="#000" stroke-width="1.31" />
<line x1="134.60" y1="77.89" x2="139.60" y2="77.89" stroke="#000" stroke-width="1.31" />
<line x1="134.60" y1="61.50" x2="139.60" y2="61.50" stroke="#000" stroke-width="1.31" />
<line x1="134.60" y1="48.11" x2="139.60" y2="48.11" stroke="#000" stroke-width="1.31" />
<line x1="134.60" y1="36.79" x2="139.60" y2="36.79" stroke="#000" stroke-width="1.31" />
<line x1="134.60" y1="26.99" x2="139.60" y2="26.99" stroke="#000" stroke-width="1.31" />
<line x1="134.60" y1="18.34" x2="139.60" y2="18.34" stroke="#000" stroke-width="1.31" />
<line x1="134.60" y1="737.00" x2="139.60" y2="737.00" stroke="#000" stroke-width="1.31" />
</g>
<rect x="139.6" y="10.6" width="853.4" height="726.4" fill="none" stroke="#000" stroke-width="1.74"/>
<text x="178.20" y="774.50" font-size="21.7" text-anchor="start" >10<tspan font-size="15.2" dy="-8.3" dx="-1.0">0</tspan></text>
<text x="377.00" y="774.50" font-size="21.7" text-anchor="start" >10<tspan font-size="15.2" dy="-8.3" dx="-0.3">1</tspan></text>
<text x="575.80" y="774.50" font-size="21.7" text-anchor="start" >10<tspan font-size="15.2" dy="-8.3" dx="-0.3">2</tspan></text>
<text x="774.60" y="774.50" font-size="21.7" text-anchor="start" >10<tspan font-size="15.2" dy="-8.3" dx="-0.3">3</tspan></text>
<text x="973.40" y="774.50" font-size="21.7" text-anchor="start" >10<tspan font-size="15.2" dy="-8.3" dx="-0.3">4</tspan></text>
<text x="84.90" y="696.70" font-size="21.7" text-anchor="start" >10<tspan font-size="15.2" dy="-8.3" dx="-0.3">2</tspan></text>
<text x="84.90" y="527.60" font-size="21.7" text-anchor="start" >10<tspan font-size="15.2" dy="-8.3" dx="-0.3">3</tspan></text>
<text x="84.90" y="358.50" font-size="21.7" text-anchor="start" >10<tspan font-size="15.2" dy="-8.3" dx="-0.3">4</tspan></text>
<text x="84.90" y="189.40" font-size="21.7" text-anchor="start" >10<tspan font-size="15.2" dy="-8.3" dx="-0.3">5</tspan></text>
<text x="84.90" y="20.30" font-size="21.7" text-anchor="start" >10<tspan font-size="15.2" dy="-8.3" dx="-0.3">6</tspan></text>
<text x="507.00" y="827.10" font-size="44.4" text-anchor="start" ><tspan font-style="italic">z</tspan>[AU]</text>
<text transform="translate(62.9 454.9) rotate(-90) scale(0.98 1.028)" font-size="44.5"><tspan font-style="italic">v</tspan><tspan dx="-1.5">[cm/s]</tspan></text>
<g id="top-legend">
<rect x="615.3" y="537.9" width="367" height="188.6" rx="4.3" ry="4.3" fill="#fff" fill-opacity="0.8" stroke="#ccc" stroke-opacity="0.8" stroke-width="2.18"/>
<line x1="623.00" y1="556.10" x2="666.80" y2="556.10" stroke="#ff0000" stroke-width="2.18" stroke-linecap="square"/>
<line x1="623.00" y1="591.20" x2="666.80" y2="591.20" stroke="#0000ff" stroke-width="2.18" stroke-linecap="square"/>
<line x1="623.00" y1="626.50" x2="666.80" y2="626.50" stroke="#00008b" stroke-width="3.00" stroke-linecap="square"/>
<circle cx="644.90" cy="626.5" r="7.63" fill="#00008b"/>
<line x1="623.00" y1="657.90" x2="666.80" y2="657.90" stroke="#000" stroke-width="3.00" stroke-linecap="square"/>
<circle cx="644.90" cy="657.9" r="7.63" fill="#000"/>
<line x1="623.00" y1="691.20" x2="666.80" y2="691.20" stroke="#8b0000" stroke-width="3.00" stroke-linecap="square"/>
<circle cx="644.90" cy="691.2" r="7.63" fill="#8b0000"/>
<text x="684.80" y="561.50" font-size="21.7" text-anchor="start" ><tspan font-style="italic">v</tspan><tspan font-size="15.2" dy="3.2">all</tspan></text>
<text x="684.80" y="596.30" font-size="21.7" text-anchor="start" ><tspan font-style="italic">v</tspan><tspan font-size="15.2" dy="3.2">esc</tspan></text>
<text x="683.40" y="633.10" font-size="21.7" text-anchor="start" >slow point</text>
<text x="683.40" y="665.80" font-size="21.7" text-anchor="start" >alfven point</text>
<text x="683.40" y="699.10" font-size="21.7" text-anchor="start" >fast point</text>
<line x1="859.40" y1="556.40" x2="901.60" y2="556.40" stroke="#228b22" stroke-width="2.18" stroke-linecap="square"/>
<line x1="859.40" y1="594.50" x2="901.60" y2="594.50" stroke="#ffa500" stroke-width="2.18" stroke-linecap="square"/>
<line x1="859.40" y1="633.40" x2="901.60" y2="633.40" stroke="#000" stroke-width="2.18" stroke-linecap="square"/>
<line x1="858.90" y1="667.60" x2="900.40" y2="667.60" stroke="#000" stroke-width="6.54" stroke-linecap="square"/>
<line x1="858.40" y1="702.70" x2="902.60" y2="702.70" stroke="#868686" stroke-width="2.00" stroke-dasharray="8.07 3.49"/>
<text x="921.30" y="561.20" font-size="21.7" text-anchor="start" ><tspan font-style="italic">v</tspan><tspan font-size="15.2" dy="3.5" font-style="italic" dx="-1">p</tspan></text>
<text x="921.30" y="599.10" font-size="21.7" text-anchor="start" ><tspan font-style="italic">v</tspan><tspan font-size="15.2" dy="3.5" font-style="italic" dx="-1">ϕ</tspan></text>
<text x="921.30" y="638.20" font-size="21.7" text-anchor="start" ><tspan font-style="italic">c</tspan><tspan font-size="15.2" dy="3.5" font-style="italic" dx="-1">s</tspan></text>
<text x="921.30" y="673.10" font-size="21.7" text-anchor="start" ><tspan font-style="italic">z</tspan><tspan font-size="15.2" dy="3.5">esc</tspan></text>
<text x="921.30" y="708.80" font-size="21.7" text-anchor="start" ><tspan font-style="italic">z</tspan><tspan font-size="15.2" dy="3.5">sonic</tspan></text>
</g>
</g>
<g id="bottom-axes">
<g clip-path="url(#cb)" fill="none" stroke-linejoin="round">
<line x1="747.00" y1="1605.90" x2="747.00" y2="880.20" stroke="#000" stroke-width="2.18" stroke-dasharray="13.97 3.49 2.18 3.49"/>
<line x1="748.70" y1="1605.90" x2="748.70" y2="880.20" stroke="#ffa500" stroke-width="2.18" stroke-dasharray="13.97 3.49 2.18 3.49"/>
<line x1="748.90" y1="1605.90" x2="748.90" y2="880.20" stroke="#007000" stroke-width="2.70" stroke-dasharray="13.97 3.49 2.18 3.49"/>
<line x1="751.90" y1="1605.90" x2="751.90" y2="880.20" stroke="#0000ff" stroke-width="2.18" stroke-dasharray="13.97 3.49 2.18 3.49"/>
<line x1="783.40" y1="1605.90" x2="783.40" y2="880.20" stroke="#ff0000" stroke-width="2.18" stroke-dasharray="13.97 3.49 2.18 3.49"/>
<path d="M138.80 1061.23 L140.79 1061.23 L142.79 1061.22 L144.78 1061.22 L146.77 1061.22 L148.77 1061.22 L150.76 1061.21 L152.75 1061.21 L154.75 1061.20 L156.74 1061.20 L158.73 1061.19 L160.73 1061.19 L162.72 1061.18 L164.72 1061.18 L166.71 1061.18 L168.70 1061.17 L170.70 1061.17 L172.69 1061.16 L174.68 1061.16 L176.68 1061.16 L178.67 1061.16 L180.66 1061.16 L182.66 1061.16 L184.65 1061.16 L186.64 1061.16 L188.64 1061.17 L190.63 1061.17 L192.62 1061.18 L194.62 1061.19 L196.61 1061.19 L198.60 1061.21 L200.60 1061.22 L202.59 1061.23 L204.58 1061.25 L206.58 1061.27 L208.57 1061.29 L210.57 1061.31 L212.56 1061.33 L214.55 1061.36 L216.55 1061.39 L218.54 1061.42 L220.53 1061.45 L222.53 1061.49 L224.52 1061.53 L226.51 1061.57 L228.51 1061.61 L230.50 1061.66 L232.49 1061.71 L234.49 1061.76 L236.48 1061.82 L238.47 1061.88 L240.47 1061.94 L242.46 1062.01 L244.45 1062.08 L246.45 1062.16 L248.44 1062.23 L250.43 1062.32 L252.43 1062.40 L254.42 1062.49 L256.41 1062.58 L258.41 1062.68 L260.40 1062.78 L262.40 1062.89 L264.39 1063.00 L266.38 1063.11 L268.38 1063.23 L270.37 1063.36 L272.36 1063.49 L274.36 1063.62 L276.35 1063.76 L278.34 1063.90 L280.34 1064.05 L282.33 1064.21 L284.32 1064.36 L286.32 1064.53 L288.31 1064.70 L290.30 1064.87 L292.30 1065.05 L294.29 1065.24 L296.28 1065.43 L298.28 1065.63 L300.27 1065.84 L302.26 1066.05 L304.26 1066.26 L306.25 1066.48 L308.25 1066.71 L310.24 1066.95 L312.23 1067.19 L314.23 1067.44 L316.22 1067.69 L318.21 1067.95 L320.21 1068.22 L322.20 1068.50 L324.19 1068.78 L326.19 1069.08 L328.18 1069.38 L330.17 1069.69 L332.17 1070.02 L334.16 1070.35 L336.15 1070.69 L338.15 1071.05 L340.14 1071.41 L342.13 1071.79 L344.13 1072.18 L346.12 1072.58 L348.11 1073.00 L350.11 1073.43 L352.10 1073.87 L354.10 1074.32 L356.09 1074.80 L358.08 1075.28 L360.08 1075.78 L362.07 1076.30 L364.06 1076.83 L366.06 1077.38 L368.05 1077.95 L370.04 1078.53 L372.04 1079.13 L374.03 1079.75 L376.02 1080.39 L378.02 1081.05 L380.01 1081.72 L382.00 1082.42 L384.00 1083.13 L385.99 1083.87 L387.98 1084.63 L389.98 1085.40 L391.97 1086.20 L393.96 1087.02 L395.96 1087.87 L397.95 1088.73 L399.94 1089.62 L401.94 1090.53 L403.93 1091.47 L405.93 1092.43 L407.92 1093.42 L409.91 1094.43 L411.91 1095.46 L413.90 1096.52 L415.89 1097.61 L417.89 1098.73 L419.88 1099.87 L421.87 1101.03 L423.87 1102.23 L425.86 1103.46 L427.85 1104.71 L429.85 1105.99 L431.84 1107.30 L433.83 1108.64 L435.83 1110.01 L437.82 1111.41 L439.81 1112.85 L441.81 1114.31 L443.80 1115.81 L445.79 1117.33 L447.79 1118.89 L449.78 1120.48 L451.78 1122.11 L453.77 1123.77 L455.76 1125.46 L457.76 1127.18 L459.75 1128.93 L461.74 1130.71 L463.74 1132.52 L465.73 1134.37 L467.72 1136.24 L469.72 1138.14 L471.71 1140.07 L473.70 1142.03 L475.70 1144.01 L477.69 1146.03 L479.68 1148.07 L481.68 1150.13 L483.67 1152.22 L485.66 1154.34 L487.66 1156.49 L489.65 1158.65 L491.64 1160.85 L493.64 1163.06 L495.63 1165.30 L497.63 1167.57 L499.62 1169.85 L501.61 1172.16 L503.61 1174.49 L505.60 1176.84 L507.59 1179.21 L509.59 1181.61 L511.58 1184.02 L513.57 1186.45 L515.57 1188.90 L517.56 1191.37 L519.55 1193.86 L521.55 1196.37 L523.54 1198.90 L525.53 1201.44 L527.53 1204.00 L529.52 1206.57 L531.51 1209.17 L533.51 1211.77 L535.50 1214.39 L537.49 1217.03 L539.49 1219.68 L541.48 1222.35 L543.48 1225.03 L545.47 1227.72 L547.46 1230.42 L549.46 1233.14 L551.45 1235.87 L553.44 1238.61 L555.44 1241.36 L557.43 1244.12 L559.42 1246.89 L561.42 1249.67 L563.41 1252.46 L565.40 1255.26 L567.40 1258.06 L569.39 1260.88 L571.38 1263.70 L573.38 1266.53 L575.37 1269.37 L577.36 1272.21 L579.36 1275.06 L581.35 1277.91 L583.34 1280.77 L585.34 1283.63 L587.33 1286.50 L589.32 1289.37 L591.32 1292.25 L593.31 1295.13 L595.31 1298.01 L597.30 1300.89 L599.29 1303.77 L601.29 1306.66 L603.28 1309.54 L605.27 1312.43 L607.27 1315.32 L609.26 1318.20 L611.25 1321.09 L613.25 1323.97 L615.24 1326.86 L617.23 1329.74 L619.23 1332.62 L621.22 1335.50 L623.21 1338.37 L625.21 1341.24 L627.20 1344.11 L629.19 1346.97 L631.19 1349.83 L633.18 1352.68 L635.17 1355.53 L637.17 1358.38 L639.16 1361.21 L641.16 1364.04 L643.15 1366.87 L645.14 1369.69 L647.14 1372.50 L649.13 1375.30 L651.12 1378.09 L653.12 1380.88 L655.11 1383.66 L657.10 1386.42 L659.10 1389.18 L661.09 1391.93 L663.08 1394.66 L665.08 1397.39 L667.07 1400.10 L669.06 1402.80 L671.06 1405.48 L673.05 1408.16 L675.04 1410.81 L677.04 1413.46 L679.03 1416.09 L681.02 1418.70 L683.02 1421.30 L685.01 1423.88 L687.01 1426.44 L689.00 1428.98 L690.99 1431.51 L692.99 1434.02 L694.98 1436.51 L696.97 1438.97 L698.97 1441.42 L700.96 1443.85 L702.95 1446.26 L704.95 1448.64 L706.94 1451.01 L708.93 1453.35 L710.93 1455.67 L712.92 1457.96 L714.91 1460.23 L716.91 1462.48 L718.90 1464.70 L720.89 1466.89 L722.89 1469.06 L724.88 1471.21 L726.87 1473.33 L728.87 1475.42 L730.86 1477.48 L732.86 1479.51 L734.85 1481.52 L736.84 1483.49 L738.84 1485.44 L740.83 1487.36 L742.82 1489.25 L744.82 1491.10 L746.81 1492.93 L748.80 1494.72 L750.80 1496.48 L752.79 1498.21 L754.78 1499.90 L756.78 1501.56 L758.77 1503.19 L760.76 1504.78 L762.76 1506.34 L764.75 1507.86 L766.74 1509.34 L768.74 1510.79 L770.73 1512.20 L772.72 1513.58 L774.72 1514.91 L776.71 1516.22 L778.70 1517.48 L780.70 1518.71 L782.69 1519.91 L784.69 1521.07 L786.68 1522.19 L788.67 1523.28 L790.67 1524.34 L792.66 1525.36 L794.65 1526.35 L796.65 1527.30 L798.64 1528.22 L800.63 1529.11 L802.63 1529.97 L804.62 1530.79 L806.61 1531.58 L808.61 1532.34 L810.60 1533.06 L812.59 1533.76 L814.59 1534.42 L816.58 1535.05 L818.57 1535.65 L820.57 1536.22 L822.56 1536.76 L824.55 1537.27 L826.55 1537.75 L828.54 1538.20 L830.54 1538.62 L832.53 1539.02 L834.52 1539.38 L836.52 1539.71 L838.51 1540.02 L840.50 1540.30 L842.50 1540.55 L844.49 1540.77 L846.48 1540.97 L848.48 1541.14 L850.47 1541.28 L852.46 1541.40 L854.46 1541.49 L856.45 1541.55 L858.44 1541.59 L860.44 1541.61 L862.43 1541.60 L864.42 1541.56 L866.42 1541.51 L868.41 1541.43 L870.40 1541.34 L872.40 1541.22 L874.39 1541.08 L876.39 1540.91 L878.38 1540.73 L880.37 1540.53 L882.37 1540.32 L884.36 1540.08 L886.35 1539.83 L888.35 1539.56 L890.34 1539.27 L892.33 1538.97 L894.33 1538.65 L896.32 1538.31 L898.31 1537.97 L900.31 1537.60 L902.30 1537.23 L904.29 1536.84 L906.29 1536.44 L908.28 1536.03 L910.27 1535.60 L912.27 1535.17 L914.26 1534.72 L916.25 1534.27 L918.25 1533.80 L920.24 1533.33 L922.23 1532.85 L924.23 1532.36 L926.22 1531.86 L928.22 1531.36 L930.21 1530.85 L932.20 1530.33 L934.20 1529.81 L936.19 1529.29 L938.18 1528.76 L940.18 1528.23 L942.17 1527.69 L944.16 1527.16 L946.16 1526.62 L948.15 1526.07 L950.14 1525.53 L952.14 1524.99 L954.13 1524.45 L956.12 1523.90 L958.12 1523.36 L960.11 1522.82 L962.10 1522.28 L964.10 1521.75 L966.09 1521.22 L968.08 1520.69 L970.08 1520.17 L972.07 1519.65 L974.07 1519.13 L976.06 1518.63 L978.05 1518.12 L980.05 1517.63 L982.04 1517.14 L984.03 1516.66 L986.03 1516.19 L988.02 1515.73 L990.01 1515.27 L992.01 1514.83 L994.00 1514.40" stroke="#ffa500" stroke-width="3.27" stroke-dasharray="12.10 5.23"/>
<path d="M138.80 1061.23 L140.79 1061.23 L142.79 1061.22 L144.78 1061.22 L146.77 1061.22 L148.77 1061.22 L150.76 1061.21 L152.75 1061.21 L154.75 1061.20 L156.74 1061.20 L158.73 1061.19 L160.73 1061.19 L162.72 1061.18 L164.72 1061.18 L166.71 1061.18 L168.70 1061.17 L170.70 1061.17 L172.69 1061.16 L174.68 1061.16 L176.68 1061.16 L178.67 1061.16 L180.66 1061.16 L182.66 1061.16 L184.65 1061.16 L186.64 1061.16 L188.64 1061.17 L190.63 1061.17 L192.62 1061.18 L194.62 1061.19 L196.61 1061.19 L198.60 1061.21 L200.60 1061.22 L202.59 1061.23 L204.58 1061.25 L206.58 1061.27 L208.57 1061.29 L210.57 1061.31 L212.56 1061.33 L214.55 1061.36 L216.55 1061.39 L218.54 1061.42 L220.53 1061.45 L222.53 1061.49 L224.52 1061.53 L226.51 1061.57 L228.51 1061.61 L230.50 1061.66 L232.49 1061.71 L234.49 1061.76 L236.48 1061.82 L238.47 1061.88 L240.47 1061.94 L242.46 1062.01 L244.45 1062.08 L246.45 1062.16 L248.44 1062.23 L250.43 1062.32 L252.43 1062.40 L254.42 1062.49 L256.41 1062.58 L258.41 1062.68 L260.40 1062.78 L262.40 1062.89 L264.39 1063.00 L266.38 1063.11 L268.38 1063.23 L270.37 1063.36 L272.36 1063.49 L274.36 1063.62 L276.35 1063.76 L278.34 1063.90 L280.34 1064.05 L282.33 1064.21 L284.32 1064.36 L286.32 1064.53 L288.31 1064.70 L290.30 1064.87 L292.30 1065.05 L294.29 1065.24 L296.28 1065.43 L298.28 1065.63 L300.27 1065.84 L302.26 1066.05 L304.26 1066.26 L306.25 1066.48 L308.25 1066.71 L310.24 1066.95 L312.23 1067.19 L314.23 1067.44 L316.22 1067.69 L318.21 1067.95 L320.21 1068.22 L322.20 1068.50 L324.19 1068.78 L326.19 1069.08 L328.18 1069.38 L330.17 1069.69 L332.17 1070.02 L334.16 1070.35 L336.15 1070.69 L338.15 1071.05 L340.14 1071.41 L342.13 1071.79 L344.13 1072.18 L346.12 1072.58 L348.11 1073.00 L350.11 1073.43 L352.10 1073.87 L354.10 1074.32 L356.09 1074.80 L358.08 1075.28 L360.08 1075.78 L362.07 1076.30 L364.06 1076.83 L366.06 1077.38 L368.05 1077.95 L370.04 1078.53 L372.04 1079.13 L374.03 1079.75 L376.02 1080.39 L378.02 1081.05 L380.01 1081.72 L382.00 1082.42 L384.00 1083.13 L385.99 1083.87 L387.98 1084.63 L389.98 1085.40 L391.97 1086.20 L393.96 1087.02 L395.96 1087.87 L397.95 1088.73 L399.94 1089.62 L401.94 1090.53 L403.93 1091.47 L405.93 1092.43 L407.92 1093.42 L409.91 1094.43 L411.91 1095.46 L413.90 1096.52 L415.89 1097.61 L417.89 1098.73 L419.88 1099.87 L421.87 1101.03 L423.87 1102.23 L425.86 1103.46 L427.85 1104.71 L429.85 1105.99 L431.84 1107.30 L433.83 1108.64 L435.83 1110.01 L437.82 1111.41 L439.81 1112.85 L441.81 1114.31 L443.80 1115.81 L445.79 1117.33 L447.79 1118.89 L449.78 1120.48 L451.78 1122.11 L453.77 1123.77 L455.76 1125.46 L457.76 1127.18 L459.75 1128.93 L461.74 1130.71 L463.74 1132.52 L465.73 1134.37 L467.72 1136.24 L469.72 1138.14 L471.71 1140.07 L473.70 1142.03 L475.70 1144.01 L477.69 1146.03 L479.68 1148.07 L481.68 1150.13 L483.67 1152.22 L485.66 1154.34 L487.66 1156.49 L489.65 1158.65 L491.64 1160.85 L493.64 1163.06 L495.63 1165.30 L497.63 1167.57 L499.62 1169.85 L501.61 1172.16 L503.61 1174.49 L505.60 1176.84 L507.59 1179.21 L509.59 1181.61 L511.58 1184.02 L513.57 1186.45 L515.57 1188.90 L517.56 1191.37 L519.55 1193.86 L521.55 1196.37 L523.54 1198.90 L525.53 1201.44 L527.53 1204.00 L529.52 1206.57 L531.51 1209.17 L533.51 1211.77 L535.50 1214.39 L537.49 1217.03 L539.49 1219.68 L541.48 1222.35 L543.48 1225.03 L545.47 1227.72 L547.46 1230.42 L549.46 1233.14 L551.45 1235.87 L553.44 1238.61 L555.44 1241.36 L557.43 1244.12 L559.42 1246.89 L561.42 1249.67 L563.41 1252.46 L565.40 1255.26 L567.40 1258.06 L569.39 1260.88 L571.38 1263.70 L573.38 1266.53 L575.37 1269.37 L577.36 1272.21 L579.36 1275.06 L581.35 1277.91 L583.34 1280.77 L585.34 1283.63 L587.33 1286.50 L589.32 1289.37 L591.32 1292.25 L593.31 1295.13 L595.31 1298.01 L597.30 1300.89 L599.29 1303.77 L601.29 1306.66 L603.28 1309.54 L605.27 1312.43 L607.27 1315.32 L609.26 1318.20 L611.25 1321.09 L613.25 1323.97 L615.24 1326.86 L617.23 1329.74 L619.23 1332.62 L621.22 1335.50 L623.21 1338.37 L625.21 1341.24 L627.20 1344.11 L629.19 1346.97 L631.19 1349.83 L633.18 1352.68 L635.17 1355.53 L637.17 1358.38 L639.16 1361.21 L641.16 1364.04 L643.15 1366.87 L645.14 1369.69 L647.14 1372.50 L649.13 1375.30 L651.12 1378.09 L653.12 1380.88 L655.11 1383.66 L657.10 1386.42 L659.10 1389.18 L661.09 1391.93 L663.08 1394.66 L665.08 1397.39 L667.07 1400.10 L669.06 1402.80 L671.06 1405.48 L673.05 1408.16 L675.04 1410.81 L677.04 1413.46 L679.03 1416.09 L681.02 1418.70 L683.02 1421.30 L685.01 1423.88 L687.01 1426.44 L689.00 1428.98 L690.99 1431.51 L692.99 1434.02 L694.98 1436.51 L696.97 1438.97 L698.97 1441.42 L700.96 1443.85 L702.95 1446.26 L704.95 1448.64 L706.94 1451.01 L708.93 1453.35 L710.93 1455.67 L712.92 1457.96 L714.91 1460.23 L716.91 1462.48 L718.90 1464.70 L720.89 1466.89 L722.89 1469.06 L724.88 1471.21 L726.87 1473.33 L728.87 1475.42 L730.86 1477.48 L732.86 1479.51 L734.85 1481.52 L736.84 1483.49 L738.84 1485.44 L740.83 1487.36 L742.82 1489.25 L744.82 1491.10 L746.81 1492.93 L748.80 1494.72 L750.80 1496.48 L752.79 1498.21 L754.78 1499.90 L756.78 1501.56 L758.77 1503.19 L760.76 1504.78 L762.76 1506.34 L764.75 1507.86 L766.74 1509.34 L768.74 1510.79 L770.73 1512.20 L772.72 1513.58 L774.72 1514.91 L776.71 1516.22 L778.70 1517.48 L780.70 1518.71 L782.69 1519.91 L784.69 1521.07 L786.68 1522.19 L788.67 1523.28 L790.67 1524.34 L792.66 1525.36 L794.65 1526.35 L796.65 1527.30 L798.64 1528.22 L800.63 1529.11 L802.63 1529.97 L804.62 1530.79 L806.61 1531.58 L808.61 1532.34 L810.60 1533.06 L812.59 1533.76 L814.59 1534.42 L816.58 1535.05 L818.57 1535.65 L820.57 1536.22 L822.56 1536.76 L824.55 1537.27 L826.55 1537.75 L828.54 1538.20 L830.54 1538.62 L832.53 1539.02 L834.52 1539.38 L836.52 1539.71 L838.51 1540.02 L840.50 1540.30 L842.50 1540.55 L844.49 1540.77 L846.48 1540.97 L848.48 1541.14 L850.47 1541.28 L852.46 1541.40 L854.46 1541.49 L856.45 1541.55 L858.44 1541.59 L860.44 1541.61 L862.43 1541.60 L864.42 1541.56 L866.42 1541.51 L868.41 1541.43 L870.40 1541.34 L872.40 1541.22 L874.39 1541.08 L876.39 1540.91 L878.38 1540.73 L880.37 1540.53 L882.37 1540.32 L884.36 1540.08 L886.35 1539.83 L888.35 1539.56 L890.34 1539.27 L892.33 1538.97 L894.33 1538.65 L896.32 1538.31 L898.31 1537.97 L900.31 1537.60 L902.30 1537.23 L904.29 1536.84 L906.29 1536.44 L908.28 1536.03 L910.27 1535.60 L912.27 1535.17 L914.26 1534.72 L916.25 1534.27 L918.25 1533.80 L920.24 1533.33 L922.23 1532.85 L924.23 1532.36 L926.22 1531.86 L928.22 1531.36 L930.21 1530.85 L932.20 1530.33 L934.20 1529.81 L936.19 1529.29 L938.18 1528.76 L940.18 1528.23 L942.17 1527.69 L944.16 1527.16 L946.16 1526.62 L948.15 1526.07 L950.14 1525.53 L952.14 1524.99 L954.13 1524.45 L956.12 1523.90 L958.12 1523.36 L960.11 1522.82 L962.10 1522.28 L964.10 1521.75 L966.09 1521.22 L968.08 1520.69 L970.08 1520.17 L972.07 1519.65 L974.07 1519.13 L976.06 1518.63 L978.05 1518.12 L980.05 1517.63 L982.04 1517.14 L984.03 1516.66 L986.03 1516.19 L988.02 1515.73 L990.01 1515.27 L992.01 1514.83 L994.00 1514.40" stroke="#008000" stroke-width="3.27" stroke-dasharray="12.10 5.23"/>
<path d="M138.80 1061.23 L140.79 1061.23 L142.79 1061.22 L144.78 1061.22 L146.77 1061.22 L148.77 1061.22 L150.76 1061.21 L152.75 1061.21 L154.75 1061.20 L156.74 1061.20 L158.73 1061.19 L160.73 1061.19 L162.72 1061.18 L164.72 1061.18 L166.71 1061.18 L168.70 1061.17 L170.70 1061.17 L172.69 1061.16 L174.68 1061.16 L176.68 1061.16 L178.67 1061.16 L180.66 1061.16 L182.66 1061.16 L184.65 1061.16 L186.64 1061.16 L188.64 1061.17 L190.63 1061.17 L192.62 1061.18 L194.62 1061.19 L196.61 1061.19 L198.60 1061.21 L200.60 1061.22 L202.59 1061.23 L204.58 1061.25 L206.58 1061.27 L208.57 1061.29 L210.57 1061.31 L212.56 1061.33 L214.55 1061.36 L216.55 1061.39 L218.54 1061.42 L220.53 1061.45 L222.53 1061.49 L224.52 1061.53 L226.51 1061.57 L228.51 1061.61 L230.50 1061.66 L232.49 1061.71 L234.49 1061.76 L236.48 1061.82 L238.47 1061.88 L240.47 1061.94 L242.46 1062.01 L244.45 1062.08 L246.45 1062.16 L248.44 1062.23 L250.43 1062.32 L252.43 1062.40 L254.42 1062.49 L256.41 1062.58 L258.41 1062.68 L260.40 1062.78 L262.40 1062.89 L264.39 1063.00 L266.38 1063.11 L268.38 1063.23 L270.37 1063.36 L272.36 1063.49 L274.36 1063.62 L276.35 1063.76 L278.34 1063.90 L280.34 1064.05 L282.33 1064.21 L284.32 1064.36 L286.32 1064.53 L288.31 1064.70 L290.30 1064.87 L292.30 1065.05 L294.29 1065.24 L296.28 1065.43 L298.28 1065.63 L300.27 1065.84 L302.26 1066.05 L304.26 1066.26 L306.25 1066.48 L308.25 1066.71 L310.24 1066.95 L312.23 1067.19 L314.23 1067.44 L316.22 1067.69 L318.21 1067.95 L320.21 1068.22 L322.20 1068.50 L324.19 1068.78 L326.19 1069.08 L328.18 1069.38 L330.17 1069.69 L332.17 1070.02 L334.16 1070.35 L336.15 1070.69 L338.15 1071.05 L340.14 1071.41 L342.13 1071.79 L344.13 1072.18 L346.12 1072.58 L348.11 1073.00 L350.11 1073.43 L352.10 1073.87 L354.10 1074.32 L356.09 1074.80 L358.08 1075.28 L360.08 1075.78 L362.07 1076.30 L364.06 1076.83 L366.06 1077.38 L368.05 1077.95 L370.04 1078.53 L372.04 1079.13 L374.03 1079.75 L376.02 1080.39 L378.02 1081.05 L380.01 1081.72 L382.00 1082.42 L384.00 1083.13 L385.99 1083.87 L387.98 1084.63 L389.98 1085.40 L391.97 1086.20 L393.96 1087.02 L395.96 1087.87 L397.95 1088.73 L399.94 1089.62 L401.94 1090.53 L403.93 1091.47 L405.93 1092.43 L407.92 1093.42 L409.91 1094.43 L411.91 1095.46 L413.90 1096.52 L415.89 1097.61 L417.89 1098.73 L419.88 1099.87 L421.87 1101.03 L423.87 1102.23 L425.86 1103.46 L427.85 1104.71 L429.85 1105.99 L431.84 1107.30 L433.83 1108.64 L435.83 1110.01 L437.82 1111.41 L439.81 1112.85 L441.81 1114.31 L443.80 1115.81 L445.79 1117.33 L447.79 1118.89 L449.78 1120.48 L451.78 1122.11 L453.77 1123.77 L455.76 1125.46 L457.76 1127.18 L459.75 1128.93 L461.74 1130.71 L463.74 1132.52 L465.73 1134.37 L467.72 1136.24 L469.72 1138.14 L471.71 1140.07 L473.70 1142.03 L475.70 1144.01 L477.69 1146.03 L479.68 1148.07 L481.68 1150.13 L483.67 1152.22 L485.66 1154.34 L487.66 1156.49 L489.65 1158.65 L491.64 1160.85 L493.64 1163.06 L495.63 1165.30 L497.63 1167.57 L499.62 1169.85 L501.61 1172.16 L503.61 1174.49 L505.60 1176.84 L507.59 1179.21 L509.59 1181.61 L511.58 1184.02 L513.57 1186.45 L515.57 1188.90 L517.56 1191.37 L519.55 1193.86 L521.55 1196.37 L523.54 1198.90 L525.53 1201.44 L527.53 1204.00 L529.52 1206.57 L531.51 1209.17 L533.51 1211.77 L535.50 1214.39 L537.49 1217.03 L539.49 1219.68 L541.48 1222.35 L543.48 1225.03 L545.47 1227.72 L547.46 1230.42 L549.46 1233.14 L551.45 1235.87 L553.44 1238.61 L555.44 1241.36 L557.43 1244.12 L559.42 1246.89 L561.42 1249.67 L563.41 1252.46 L565.40 1255.26 L567.40 1258.06 L569.39 1260.88 L571.38 1263.70 L573.38 1266.53 L575.37 1269.37 L577.36 1272.21 L579.36 1275.06 L581.35 1277.91 L583.34 1280.77 L585.34 1283.63 L587.33 1286.50 L589.32 1289.37 L591.32 1292.25 L593.31 1295.13 L595.31 1298.01 L597.30 1300.89 L599.29 1303.77 L601.29 1306.66 L603.28 1309.55 L605.27 1312.44 L607.27 1315.33 L609.26 1318.23 L611.25 1321.13 L613.25 1324.03 L615.24 1326.93 L617.23 1329.82 L619.23 1332.72 L621.22 1335.62 L623.21 1338.52 L625.21 1341.41 L627.20 1344.30 L629.19 1347.19 L631.19 1350.07 L633.18 1352.95 L635.17 1355.83 L637.17 1358.70 L639.16 1361.56 L641.16 1364.42 L643.15 1367.28 L645.14 1370.12 L647.14 1372.96 L649.13 1375.79 L651.12 1378.61 L653.12 1381.42 L655.11 1384.23 L657.10 1387.04 L659.10 1389.83 L661.09 1392.62 L663.08 1395.39 L665.08 1398.16 L667.07 1400.92 L669.06 1403.66 L671.06 1406.39 L673.05 1409.11 L675.04 1411.82 L677.04 1414.51 L679.03 1417.18 L681.02 1419.84 L683.02 1422.48 L685.01 1425.10 L687.01 1427.71 L689.00 1430.30 L690.99 1432.86 L692.99 1435.41 L694.98 1437.93 L696.97 1440.43 L698.97 1442.91 L700.96 1445.36 L702.95 1447.80 L704.95 1450.20 L706.94 1452.59 L708.93 1454.95 L710.93 1457.29 L712.92 1459.60 L714.91 1461.89 L716.91 1464.15 L718.90 1466.38 L720.89 1468.60 L722.89 1470.78 L724.88 1472.94 L726.87 1475.07 L728.87 1477.18 L730.86 1479.26 L732.86 1481.31 L734.85 1483.33 L736.84 1485.33 L738.84 1487.30 L740.83 1489.23 L742.82 1491.14 L744.82 1493.03 L746.81 1494.88 L748.80 1496.70 L750.80 1498.49 L752.79 1500.26 L754.78 1502.00 L756.78 1503.71 L758.77 1505.40 L760.76 1507.05 L762.76 1508.67 L764.75 1510.27 L766.74 1511.83 L768.74 1513.35 L770.73 1514.84 L772.72 1516.29 L774.72 1517.71 L776.71 1519.09 L778.70 1520.43 L780.70 1521.74 L782.69 1523.02 L784.69 1524.28 L786.68 1525.51 L788.67 1526.71 L790.67 1527.88 L792.66 1529.02 L794.65 1530.12 L796.65 1531.18 L798.64 1532.21 L800.63 1533.19 L802.63 1534.12 L804.62 1535.01 L806.61 1535.85 L808.61 1536.63 L810.60 1537.36 L812.59 1538.05 L814.59 1538.69 L816.58 1539.30 L818.57 1539.86 L820.57 1540.39 L822.56 1540.88 L824.55 1541.34 L826.55 1541.76 L828.54 1542.15 L830.54 1542.50 L832.53 1542.82 L834.52 1543.11 L836.52 1543.38 L838.51 1543.61 L840.50 1543.82 L842.50 1543.99 L844.49 1544.15 L846.48 1544.28 L848.48 1544.38 L850.47 1544.47 L852.46 1544.52 L854.46 1544.55 L856.45 1544.55 L858.44 1544.52 L860.44 1544.47 L862.43 1544.40 L864.42 1544.31 L866.42 1544.20 L868.41 1544.07 L870.40 1543.93 L872.40 1543.76 L874.39 1543.58 L876.39 1543.38 L878.38 1543.15 L880.37 1542.91 L882.37 1542.65 L884.36 1542.38 L886.35 1542.08 L888.35 1541.77 L890.34 1541.45 L892.33 1541.12 L894.33 1540.77 L896.32 1540.40 L898.31 1540.03 L900.31 1539.65 L902.30 1539.25 L904.29 1538.85 L906.29 1538.44 L908.28 1538.03 L910.27 1537.60 L912.27 1537.17 L914.26 1536.72 L916.25 1536.27 L918.25 1535.80 L920.24 1535.33 L922.23 1534.85 L924.23 1534.36 L926.22 1533.86 L928.22 1533.36 L930.21 1532.85 L932.20 1532.33 L934.20 1531.81 L936.19 1531.29 L938.18 1530.76 L940.18 1530.23 L942.17 1529.69 L944.16 1529.16 L946.16 1528.62 L948.15 1528.07 L950.14 1527.53 L952.14 1526.98 L954.13 1526.44 L956.12 1525.89 L958.12 1525.33 L960.11 1524.78 L962.10 1524.23 L964.10 1523.68 L966.09 1523.14 L968.08 1522.59 L970.08 1522.05 L972.07 1521.51 L974.07 1520.97 L976.06 1520.44 L978.05 1519.92 L980.05 1519.40 L982.04 1518.89 L984.03 1518.38 L986.03 1517.88 L988.02 1517.39 L990.01 1516.91 L992.01 1516.44 L994.00 1516.00" stroke="#0000ff" stroke-width="3.27" stroke-dasharray="12.10 5.23"/>
<path d="M138.80 1061.23 L140.79 1061.23 L142.79 1061.22 L144.78 1061.22 L146.77 1061.22 L148.77 1061.22 L150.76 1061.21 L152.75 1061.21 L154.75 1061.20 L156.74 1061.20 L158.73 1061.19 L160.73 1061.19 L162.72 1061.18 L164.72 1061.18 L166.71 1061.18 L168.70 1061.17 L170.70 1061.17 L172.69 1061.16 L174.68 1061.16 L176.68 1061.16 L178.67 1061.16 L180.66 1061.16 L182.66 1061.16 L184.65 1061.16 L186.64 1061.16 L188.64 1061.17 L190.63 1061.17 L192.62 1061.18 L194.62 1061.19 L196.61 1061.19 L198.60 1061.21 L200.60 1061.22 L202.59 1061.23 L204.58 1061.25 L206.58 1061.27 L208.57 1061.29 L210.57 1061.31 L212.56 1061.33 L214.55 1061.36 L216.55 1061.39 L218.54 1061.42 L220.53 1061.45 L222.53 1061.49 L224.52 1061.53 L226.51 1061.57 L228.51 1061.61 L230.50 1061.66 L232.49 1061.71 L234.49 1061.76 L236.48 1061.82 L238.47 1061.88 L240.47 1061.94 L242.46 1062.01 L244.45 1062.08 L246.45 1062.16 L248.44 1062.23 L250.43 1062.32 L252.43 1062.40 L254.42 1062.49 L256.41 1062.58 L258.41 1062.68 L260.40 1062.78 L262.40 1062.89 L264.39 1063.00 L266.38 1063.11 L268.38 1063.23 L270.37 1063.36 L272.36 1063.49 L274.36 1063.62 L276.35 1063.76 L278.34 1063.90 L280.34 1064.05 L282.33 1064.21 L284.32 1064.36 L286.32 1064.53 L288.31 1064.70 L290.30 1064.87 L292.30 1065.05 L294.29 1065.24 L296.28 1065.43 L298.28 1065.63 L300.27 1065.84 L302.26 1066.05 L304.26 1066.26 L306.25 1066.48 L308.25 1066.71 L310.24 1066.95 L312.23 1067.19 L314.23 1067.44 L316.22 1067.69 L318.21 1067.95 L320.21 1068.22 L322.20 1068.50 L324.19 1068.78 L326.19 1069.08 L328.18 1069.38 L330.17 1069.69 L332.17 1070.02 L334.16 1070.35 L336.15 1070.69 L338.15 1071.05 L340.14 1071.41 L342.13 1071.79 L344.13 1072.18 L346.12 1072.58 L348.11 1073.00 L350.11 1073.43 L352.10 1073.87 L354.10 1074.32 L356.09 1074.80 L358.08 1075.28 L360.08 1075.78 L362.07 1076.30 L364.06 1076.83 L366.06 1077.38 L368.05 1077.95 L370.04 1078.53 L372.04 1079.13 L374.03 1079.75 L376.02 1080.39 L378.02 1081.05 L380.01 1081.72 L382.00 1082.42 L384.00 1083.13 L385.99 1083.87 L387.98 1084.63 L389.98 1085.40 L391.97 1086.20 L393.96 1087.02 L395.96 1087.87 L397.95 1088.73 L399.94 1089.62 L401.94 1090.53 L403.93 1091.47 L405.93 1092.43 L407.92 1093.42 L409.91 1094.43 L411.91 1095.46 L413.90 1096.52 L415.89 1097.61 L417.89 1098.73 L419.88 1099.87 L421.87 1101.03 L423.87 1102.23 L425.86 1103.46 L427.85 1104.71 L429.85 1105.99 L431.84 1107.30 L433.83 1108.64 L435.83 1110.01 L437.82 1111.41 L439.81 1112.85 L441.81 1114.31 L443.80 1115.81 L445.79 1117.33 L447.79 1118.89 L449.78 1120.48 L451.78 1122.11 L453.77 1123.77 L455.76 1125.46 L457.76 1127.18 L459.75 1128.93 L461.74 1130.71 L463.74 1132.52 L465.73 1134.37 L467.72 1136.24 L469.72 1138.14 L471.71 1140.07 L473.70 1142.03 L475.70 1144.01 L477.69 1146.03 L479.68 1148.07 L481.68 1150.13 L483.67 1152.22 L485.66 1154.34 L487.66 1156.49 L489.65 1158.65 L491.64 1160.85 L493.64 1163.06 L495.63 1165.30 L497.63 1167.57 L499.62 1169.85 L501.61 1172.16 L503.61 1174.49 L505.60 1176.84 L507.59 1179.21 L509.59 1181.61 L511.58 1184.02 L513.57 1186.45 L515.57 1188.90 L517.56 1191.37 L519.55 1193.86 L521.55 1196.37 L523.54 1198.90 L525.53 1201.44 L527.53 1204.00 L529.52 1206.57 L531.51 1209.17 L533.51 1211.77 L535.50 1214.39 L537.49 1217.03 L539.49 1219.68 L541.48 1222.35 L543.48 1225.03 L545.47 1227.72 L547.46 1230.42 L549.46 1233.14 L551.45 1235.87 L553.44 1238.61 L555.44 1241.36 L557.43 1244.12 L559.42 1246.89 L561.42 1249.67 L563.41 1252.46 L565.40 1255.27 L567.40 1258.09 L569.39 1260.92 L571.38 1263.76 L573.38 1266.61 L575.37 1269.46 L577.36 1272.33 L579.36 1275.21 L581.35 1278.10 L583.34 1280.99 L585.34 1283.89 L587.33 1286.80 L589.32 1289.71 L591.32 1292.63 L593.31 1295.55 L595.31 1298.48 L597.30 1301.42 L599.29 1304.35 L601.29 1307.30 L603.28 1310.27 L605.27 1313.28 L607.27 1316.30 L609.26 1319.35 L611.25 1322.41 L613.25 1325.48 L615.24 1328.56 L617.23 1331.65 L619.23 1334.74 L621.22 1337.83 L623.21 1340.94 L625.21 1344.07 L627.20 1347.22 L629.19 1350.38 L631.19 1353.55 L633.18 1356.73 L635.17 1359.91 L637.17 1363.09 L639.16 1366.28 L641.16 1369.48 L643.15 1372.72 L645.14 1375.95 L647.14 1379.15 L649.13 1382.33 L651.12 1385.50 L653.12 1388.66 L655.11 1391.79 L657.10 1394.87 L659.10 1397.90 L661.09 1400.86 L663.08 1403.77 L665.08 1406.64 L667.07 1409.48 L669.06 1412.30 L671.06 1415.10 L673.05 1417.90 L675.04 1420.69 L677.04 1423.50 L679.03 1426.32 L681.02 1429.18 L683.02 1432.09 L685.01 1435.05 L687.01 1438.04 L689.00 1441.05 L690.99 1444.08 L692.99 1447.10 L694.98 1450.13 L696.97 1453.13 L698.97 1456.11 L700.96 1459.07 L702.95 1462.05 L704.95 1465.03 L706.94 1468.02 L708.93 1471.00 L710.93 1473.96 L712.92 1476.89 L714.91 1479.78 L716.91 1482.63 L718.90 1485.42 L720.89 1488.15 L722.89 1490.86 L724.88 1493.53 L726.87 1496.17 L728.87 1498.77 L730.86 1501.33 L732.86 1503.84 L734.85 1506.31 L736.84 1508.74 L738.84 1511.11 L740.83 1513.44 L742.82 1515.74 L744.82 1518.01 L746.81 1520.23 L748.80 1522.41 L750.80 1524.54 L752.79 1526.60 L754.78 1528.60 L756.78 1530.53 L758.77 1532.38 L760.76 1534.16 L762.76 1535.88 L764.75 1537.54 L766.74 1539.15 L768.74 1540.71 L770.73 1542.24 L772.72 1543.73 L774.72 1545.20 L776.71 1546.65 L778.70 1548.09 L780.70 1549.55 L782.69 1551.05 L784.69 1552.55 L786.68 1554.04 L788.67 1555.50 L790.67 1556.90 L792.66 1558.22 L794.65 1559.45 L796.65 1560.56 L798.64 1561.52 L800.63 1562.41 L802.63 1563.25 L804.62 1564.05 L806.61 1564.82 L808.61 1565.54 L810.60 1566.23 L812.59 1566.89 L814.59 1567.51 L816.58 1568.09 L818.57 1568.64 L820.57 1569.13 L822.56 1569.56 L824.55 1569.91 L826.55 1570.21 L828.54 1570.45 L830.54 1570.64 L832.53 1570.78 L834.52 1570.87 L836.52 1570.92 L838.51 1570.94 L840.50 1570.92 L842.50 1570.87 L844.49 1570.80 L846.48 1570.70 L848.48 1570.59 L850.47 1570.46 L852.46 1570.30 L854.46 1570.11 L856.45 1569.88 L858.44 1569.62 L860.44 1569.33 L862.43 1569.01 L864.42 1568.67 L866.42 1568.29 L868.41 1567.89 L870.40 1567.47 L872.40 1567.01 L874.39 1566.52 L876.39 1565.99 L878.38 1565.45 L880.37 1564.88 L882.37 1564.30 L884.36 1563.70 L886.35 1563.10 L888.35 1562.50 L890.34 1561.89 L892.33 1561.28 L894.33 1560.66 L896.32 1560.04 L898.31 1559.41 L900.31 1558.76 L902.30 1558.10 L904.29 1557.43 L906.29 1556.74 L908.28 1556.03 L910.27 1555.31 L912.27 1554.56 L914.26 1553.81 L916.25 1553.04 L918.25 1552.26 L920.24 1551.46 L922.23 1550.67 L924.23 1549.86 L926.22 1549.06 L928.22 1548.25 L930.21 1547.43 L932.20 1546.61 L934.20 1545.78 L936.19 1544.95 L938.18 1544.11 L940.18 1543.28 L942.17 1542.45 L944.16 1541.63 L946.16 1540.82 L948.15 1540.03 L950.14 1539.25 L952.14 1538.49 L954.13 1537.73 L956.12 1536.98 L958.12 1536.25 L960.11 1535.51 L962.10 1534.79 L964.10 1534.06 L966.09 1533.34 L968.08 1532.62 L970.08 1531.90 L972.07 1531.19 L974.07 1530.48 L976.06 1529.78 L978.05 1529.09 L980.05 1528.41 L982.04 1527.73 L984.03 1527.07 L986.03 1526.41 L988.02 1525.76 L990.01 1525.13 L992.01 1524.50 L994.00 1524.00" stroke="#ff0000" stroke-width="3.27" stroke-dasharray="12.10 5.23"/>
<path d="M138.80 1061.23 L140.79 1061.23 L142.79 1061.22 L144.78 1061.22 L146.77 1061.22 L148.77 1061.22 L150.76 1061.21 L152.75 1061.21 L154.75 1061.20 L156.74 1061.20 L158.73 1061.19 L160.73 1061.19 L162.72 1061.18 L164.72 1061.18 L166.71 1061.18 L168.70 1061.17 L170.70 1061.17 L172.69 1061.16 L174.68 1061.16 L176.68 1061.16 L178.67 1061.16 L180.66 1061.16 L182.66 1061.16 L184.65 1061.16 L186.64 1061.16 L188.64 1061.17 L190.63 1061.17 L192.62 1061.18 L194.62 1061.19 L196.61 1061.19 L198.60 1061.21 L200.60 1061.22 L202.59 1061.23 L204.58 1061.25 L206.58 1061.27 L208.57 1061.29 L210.57 1061.31 L212.56 1061.33 L214.55 1061.36 L216.55 1061.39 L218.54 1061.42 L220.53 1061.45 L222.53 1061.49 L224.52 1061.53 L226.51 1061.57 L228.51 1061.61 L230.50 1061.66 L232.49 1061.71 L234.49 1061.76 L236.48 1061.82 L238.47 1061.88 L240.47 1061.94 L242.46 1062.01 L244.45 1062.08 L246.45 1062.16 L248.44 1062.23 L250.43 1062.32 L252.43 1062.40 L254.42 1062.49 L256.41 1062.58 L258.41 1062.68 L260.40 1062.78 L262.40 1062.89 L264.39 1063.00 L266.38 1063.11 L268.38 1063.23 L270.37 1063.36 L272.36 1063.49 L274.36 1063.62 L276.35 1063.76 L278.34 1063.90 L280.34 1064.05 L282.33 1064.21 L284.32 1064.36 L286.32 1064.53 L288.31 1064.70 L290.30 1064.87 L292.30 1065.05 L294.29 1065.24 L296.28 1065.43 L298.28 1065.63 L300.27 1065.84 L302.26 1066.05 L304.26 1066.26 L306.25 1066.48 L308.25 1066.71 L310.24 1066.95 L312.23 1067.19 L314.23 1067.44 L316.22 1067.69 L318.21 1067.95 L320.21 1068.22 L322.20 1068.50 L324.19 1068.78 L326.19 1069.08 L328.18 1069.38 L330.17 1069.69 L332.17 1070.02 L334.16 1070.35 L336.15 1070.69 L338.15 1071.05 L340.14 1071.41 L342.13 1071.79 L344.13 1072.18 L346.12 1072.58 L348.11 1073.00 L350.11 1073.43 L352.10 1073.87 L354.10 1074.32 L356.09 1074.80 L358.08 1075.28 L360.08 1075.78 L362.07 1076.30 L364.06 1076.83 L366.06 1077.38 L368.05 1077.95 L370.04 1078.53 L372.04 1079.13 L374.03 1079.75 L376.02 1080.39 L378.02 1081.05 L380.01 1081.72 L382.00 1082.42 L384.00 1083.13 L385.99 1083.87 L387.98 1084.63 L389.98 1085.40 L391.97 1086.20 L393.96 1087.02 L395.96 1087.87 L397.95 1088.73 L399.94 1089.62 L401.94 1090.53 L403.93 1091.47 L405.93 1092.43 L407.92 1093.42 L409.91 1094.43 L411.91 1095.46 L413.90 1096.52 L415.89 1097.61 L417.89 1098.73 L419.88 1099.87 L421.87 1101.03 L423.87 1102.23 L425.86 1103.46 L427.85 1104.71 L429.85 1105.99 L431.84 1107.30 L433.83 1108.64 L435.83 1110.01 L437.82 1111.41 L439.81 1112.85 L441.81 1114.31 L443.80 1115.81 L445.79 1117.33 L447.79 1118.89 L449.78 1120.48 L451.78 1122.11 L453.77 1123.77 L455.76 1125.46 L457.76 1127.18 L459.75 1128.93 L461.74 1130.71 L463.74 1132.52 L465.73 1134.37 L467.72 1136.24 L469.72 1138.14 L471.71 1140.07 L473.70 1142.03 L475.70 1144.01 L477.69 1146.03 L479.68 1148.07 L481.68 1150.13 L483.67 1152.22 L485.66 1154.34 L487.66 1156.49 L489.65 1158.65 L491.64 1160.85 L493.64 1163.06 L495.63 1165.30 L497.63 1167.57 L499.62 1169.85 L501.61 1172.16 L503.61 1174.49 L505.60 1176.84 L507.59 1179.21 L509.59 1181.61 L511.58 1184.02 L513.57 1186.45 L515.57 1188.90 L517.56 1191.37 L519.55 1193.86 L521.55 1196.37 L523.54 1198.90 L525.53 1201.44 L527.53 1204.00 L529.52 1206.57 L531.51 1209.17 L533.51 1211.77 L535.50 1214.39 L537.49 1217.03 L539.49 1219.68 L541.48 1222.35 L543.48 1225.03 L545.47 1227.72 L547.46 1230.42 L549.46 1233.14 L551.45 1235.87 L553.44 1238.61 L555.44 1241.36 L557.43 1244.12 L559.42 1246.89 L561.42 1249.67 L563.41 1252.46 L565.40 1255.26 L567.40 1258.06 L569.39 1260.88 L571.38 1263.70 L573.38 1266.53 L575.37 1269.37 L577.36 1272.21 L579.36 1275.06 L581.35 1277.91 L583.34 1280.77 L585.34 1283.63 L587.33 1286.50 L589.32 1289.37 L591.32 1292.25 L593.31 1295.13 L595.31 1298.01 L597.30 1300.89 L599.29 1303.77 L601.29 1306.66 L603.28 1309.54 L605.27 1312.43 L607.27 1315.32 L609.26 1318.20 L611.25 1321.09 L613.25 1323.97 L615.24 1326.86 L617.23 1329.74 L619.23 1332.62 L621.22 1335.50 L623.21 1338.37 L625.21 1341.24 L627.20 1344.11 L629.19 1346.97 L631.19 1349.83 L633.18 1352.68 L635.17 1355.53 L637.17 1358.38 L639.16 1361.21 L641.16 1364.04 L643.15 1366.87 L645.14 1369.69 L647.14 1372.50 L649.13 1375.30 L651.12 1378.09 L653.12 1380.88 L655.11 1383.66 L657.10 1386.42 L659.10 1389.18 L661.09 1391.93 L663.08 1394.66 L665.08 1397.39 L667.07 1400.10 L669.06 1402.80 L671.06 1405.48 L673.05 1408.16 L675.04 1410.81 L677.04 1413.46 L679.03 1416.09 L681.02 1418.70 L683.02 1421.30 L685.01 1423.88 L687.01 1426.44 L689.00 1428.98 L690.99 1431.51 L692.99 1434.02 L694.98 1436.51 L696.97 1438.97 L698.97 1441.42 L700.96 1443.85 L702.95 1446.26 L704.95 1448.64 L706.94 1451.01 L708.93 1453.35 L710.93 1455.67 L712.92 1457.96 L714.91 1460.23 L716.91 1462.48 L718.90 1464.70 L720.89 1466.89 L722.89 1469.06 L724.88 1471.21 L726.87 1473.33 L728.87 1475.42 L730.86 1477.48 L732.86 1479.51 L734.85 1481.52 L736.84 1483.49 L738.84 1485.44 L740.83 1487.36 L742.82 1489.25 L744.82 1491.10 L746.81 1492.93 L748.80 1494.72 L750.80 1496.48 L752.79 1498.21 L754.78 1499.90 L756.78 1501.56 L758.77 1503.19 L760.76 1504.78 L762.76 1506.34 L764.75 1507.86 L766.74 1509.34 L768.74 1510.79 L770.73 1512.20 L772.72 1513.58 L774.72 1514.91 L776.71 1516.22 L778.70 1517.48 L780.70 1518.71 L782.69 1519.91 L784.69 1521.07 L786.68 1522.19 L788.67 1523.28 L790.67 1524.34 L792.66 1525.36 L794.65 1526.35 L796.65 1527.30 L798.64 1528.22 L800.63 1529.11 L802.63 1529.97 L804.62 1530.79 L806.61 1531.58 L808.61 1532.34 L810.60 1533.06 L812.59 1533.76 L814.59 1534.42 L816.58 1535.05 L818.57 1535.65 L820.57 1536.22 L822.56 1536.76 L824.55 1537.27 L826.55 1537.75 L828.54 1538.20 L830.54 1538.62 L832.53 1539.02 L834.52 1539.38 L836.52 1539.71 L838.51 1540.02 L840.50 1540.30 L842.50 1540.55 L844.49 1540.77 L846.48 1540.97 L848.48 1541.14 L850.47 1541.28 L852.46 1541.40 L854.46 1541.49 L856.45 1541.55 L858.44 1541.59 L860.44 1541.61 L862.43 1541.60 L864.42 1541.56 L866.42 1541.51 L868.41 1541.43 L870.40 1541.34 L872.40 1541.22 L874.39 1541.08 L876.39 1540.91 L878.38 1540.73 L880.37 1540.53 L882.37 1540.32 L884.36 1540.08 L886.35 1539.83 L888.35 1539.56 L890.34 1539.27 L892.33 1538.97 L894.33 1538.65 L896.32 1538.31 L898.31 1537.97 L900.31 1537.60 L902.30 1537.23 L904.29 1536.84 L906.29 1536.44 L908.28 1536.03 L910.27 1535.60 L912.27 1535.17 L914.26 1534.72 L916.25 1534.27 L918.25 1533.80 L920.24 1533.33 L922.23 1532.85 L924.23 1532.36 L926.22 1531.86 L928.22 1531.36 L930.21 1530.85 L932.20 1530.33 L934.20 1529.81 L936.19 1529.29 L938.18 1528.76 L940.18 1528.23 L942.17 1527.69 L944.16 1527.16 L946.16 1526.62 L948.15 1526.07 L950.14 1525.53 L952.14 1524.99 L954.13 1524.45 L956.12 1523.90 L958.12 1523.36 L960.11 1522.82 L962.10 1522.28 L964.10 1521.75 L966.09 1521.22 L968.08 1520.69 L970.08 1520.17 L972.07 1519.65 L974.07 1519.13 L976.06 1518.63 L978.05 1518.12 L980.05 1517.63 L982.04 1517.14 L984.03 1516.66 L986.03 1516.19 L988.02 1515.73 L990.01 1515.27 L992.01 1514.83 L994.00 1514.40" stroke="#000" stroke-width="3.27"/>
<path d="M138.80 929.22 L140.79 929.32 L142.79 929.43 L144.78 929.54 L146.77 929.66 L148.77 929.79 L150.76 929.92 L152.75 930.06 L154.75 930.21 L156.74 930.36 L158.73 930.52 L160.73 930.68 L162.72 930.85 L164.72 931.03 L166.71 931.21 L168.70 931.40 L170.70 931.59 L172.69 931.79 L174.68 932.00 L176.68 932.21 L178.67 932.43 L180.66 932.65 L182.66 932.88 L184.65 933.12 L186.64 933.36 L188.64 933.61 L190.63 933.86 L192.62 934.12 L194.62 934.39 L196.61 934.66 L198.60 934.94 L200.60 935.22 L202.59 935.51 L204.58 935.80 L206.58 936.10 L208.57 936.41 L210.57 936.72 L212.56 937.04 L214.55 937.36 L216.55 937.69 L218.54 938.02 L220.53 938.36 L222.53 938.71 L224.52 939.06 L226.51 939.42 L228.51 939.78 L230.50 940.14 L232.49 940.52 L234.49 940.90 L236.48 941.28 L238.47 941.67 L240.47 942.06 L242.46 942.46 L244.45 942.87 L246.45 943.28 L248.44 943.70 L250.43 944.12 L252.43 944.54 L254.42 944.98 L256.41 945.41 L258.41 945.86 L260.40 946.31 L262.40 946.76 L264.39 947.22 L266.38 947.69 L268.38 948.17 L270.37 948.65 L272.36 949.14 L274.36 949.64 L276.35 950.14 L278.34 950.66 L280.34 951.18 L282.33 951.71 L284.32 952.25 L286.32 952.80 L288.31 953.37 L290.30 953.94 L292.30 954.52 L294.29 955.11 L296.28 955.71 L298.28 956.33 L300.27 956.95 L302.26 957.59 L304.26 958.24 L306.25 958.90 L308.25 959.58 L310.24 960.26 L312.23 960.97 L314.23 961.68 L316.22 962.41 L318.21 963.15 L320.21 963.91 L322.20 964.68 L324.19 965.46 L326.19 966.26 L328.18 967.08 L330.17 967.91 L332.17 968.76 L334.16 969.63 L336.15 970.51 L338.15 971.41 L340.14 972.32 L342.13 973.25 L344.13 974.20 L346.12 975.17 L348.11 976.16 L350.11 977.16 L352.10 978.19 L354.10 979.23 L356.09 980.29 L358.08 981.38 L360.08 982.48 L362.07 983.60 L364.06 984.74 L366.06 985.91 L368.05 987.09 L370.04 988.30 L372.04 989.53 L374.03 990.77 L376.02 992.04 L378.02 993.34 L380.01 994.65 L382.00 995.99 L384.00 997.34 L385.99 998.72 L387.98 1000.12 L389.98 1001.54 L391.97 1002.98 L393.96 1004.44 L395.96 1005.92 L397.95 1007.43 L399.94 1008.95 L401.94 1010.50 L403.93 1012.07 L405.93 1013.66 L407.92 1015.27 L409.91 1016.90 L411.91 1018.55 L413.90 1020.22 L415.89 1021.91 L417.89 1023.62 L419.88 1025.36 L421.87 1027.11 L423.87 1028.89 L425.86 1030.68 L427.85 1032.50 L429.85 1034.33 L431.84 1036.19 L433.83 1038.07 L435.83 1039.96 L437.82 1041.88 L439.81 1043.82 L441.81 1045.78 L443.80 1047.76 L445.79 1049.75 L447.79 1051.77 L449.78 1053.81 L451.78 1055.87 L453.77 1057.95 L455.76 1060.05 L457.76 1062.17 L459.75 1064.30 L461.74 1066.46 L463.74 1068.64 L465.73 1070.84 L467.72 1073.05 L469.72 1075.29 L471.71 1077.55 L473.70 1079.82 L475.70 1082.12 L477.69 1084.44 L479.68 1086.77 L481.68 1089.13 L483.67 1091.50 L485.66 1093.89 L487.66 1096.30 L489.65 1098.74 L491.64 1101.19 L493.64 1103.66 L495.63 1106.14 L497.63 1108.65 L499.62 1111.17 L501.61 1113.72 L503.61 1116.28 L505.60 1118.85 L507.59 1121.45 L509.59 1124.06 L511.58 1126.68 L513.57 1129.32 L515.57 1131.98 L517.56 1134.65 L519.55 1137.34 L521.55 1140.04 L523.54 1142.76 L525.53 1145.49 L527.53 1148.24 L529.52 1150.99 L531.51 1153.77 L533.51 1156.55 L535.50 1159.35 L537.49 1162.16 L539.49 1164.98 L541.48 1167.82 L543.48 1170.66 L545.47 1173.52 L547.46 1176.39 L549.46 1179.27 L551.45 1182.16 L553.44 1185.06 L555.44 1187.97 L557.43 1190.88 L559.42 1193.81 L561.42 1196.75 L563.41 1199.70 L565.40 1202.65 L567.40 1205.61 L569.39 1208.58 L571.38 1211.56 L573.38 1214.55 L575.37 1217.54 L577.36 1220.54 L579.36 1223.54 L581.35 1226.55 L583.34 1229.57 L585.34 1232.59 L587.33 1235.62 L589.32 1238.65 L591.32 1241.69 L593.31 1244.73 L595.31 1247.78 L597.30 1250.83 L599.29 1253.88 L601.29 1256.94 L603.28 1260.00 L605.27 1263.06 L607.27 1266.13 L609.26 1269.20 L611.25 1272.27 L613.25 1275.35 L615.24 1278.43 L617.23 1281.51 L619.23 1284.60 L621.22 1287.69 L623.21 1290.78 L625.21 1293.88 L627.20 1296.98 L629.19 1300.08 L631.19 1303.19 L633.18 1306.30 L635.17 1309.41 L637.17 1312.53 L639.16 1315.65 L641.16 1318.78 L643.15 1321.91 L645.14 1325.04 L647.14 1328.18 L649.13 1331.32 L651.12 1334.46 L653.12 1337.61 L655.11 1340.76 L657.10 1343.91 L659.10 1347.07 L661.09 1350.23 L663.08 1353.40 L665.08 1356.57 L667.07 1359.74 L669.06 1362.92 L671.06 1366.10 L673.05 1369.29 L675.04 1372.48 L677.04 1375.67 L679.03 1378.87 L681.02 1382.07 L683.02 1385.28 L685.01 1388.48 L687.01 1391.70 L689.00 1394.92 L690.99 1398.14 L692.99 1401.36 L694.98 1404.59 L696.97 1407.83 L698.97 1411.06 L700.96 1414.31 L702.95 1417.55 L704.95 1420.80 L706.94 1424.06 L708.93 1427.32 L710.93 1430.58 L712.92 1433.85 L714.91 1437.12 L716.91 1440.39 L718.90 1443.67 L720.89 1446.96 L722.89 1450.25 L724.88 1453.54 L726.87 1456.84 L728.87 1460.14 L730.86 1463.45 L732.86 1466.76 L734.85 1470.07 L736.84 1473.39 L738.84 1476.72 L740.83 1480.05 L742.82 1483.38 L744.82 1486.72 L746.81 1490.06 L748.80 1493.41 L750.80 1496.76 L752.79 1500.12 L754.78 1503.48 L756.78 1506.85 L758.77 1510.22 L760.76 1513.59 L762.76 1516.97 L764.75 1520.36 L766.74 1523.74 L768.74 1527.14 L770.73 1530.53 L772.72 1533.93 L774.72 1537.32 L776.71 1540.73 L778.70 1544.13 L780.70 1547.53 L782.69 1550.94 L784.69 1554.34 L786.68 1557.75 L788.67 1561.15 L790.67 1564.56 L792.66 1567.96 L794.65 1571.37 L796.65 1574.77 L798.64 1578.17 L800.63 1581.57 L802.63 1584.96 L804.62 1588.35 L806.61 1591.74 L808.61 1595.13 L810.60 1598.51 L812.59 1601.89 L814.59 1605.26 L816.58 1608.63 L818.57 1612.00 L820.57 1615.35 L822.56 1618.71 L824.55 1622.06 L826.55 1625.41 L828.54 1628.75 L830.54 1632.09 L832.53 1635.42 L834.52 1638.75 L836.52 1642.08 L838.51 1645.40 L840.50 1648.72 L842.50 1652.04 L844.49 1655.36 L846.48 1658.67 L848.48 1661.97 L850.47 1665.28 L852.46 1668.58 L854.46 1671.88 L856.45 1675.18 L858.44 1678.48 L860.44 1681.77 L862.43 1685.06 L864.42 1688.35 L866.42 1691.64 L868.41 1694.92 L870.40 1698.21 L872.40 1701.49 L874.39 1704.77 L876.39 1708.05 L878.38 1711.33 L880.37 1714.61 L882.37 1717.89 L884.36 1721.16 L886.35 1724.44 L888.35 1727.71 L890.34 1730.99 L892.33 1734.26 L894.33 1737.54 L896.32 1740.81 L898.31 1744.09 L900.31 1747.36 L902.30 1750.64 L904.29 1753.91 L906.29 1757.19 L908.28 1760.46 L910.27 1763.74 L912.27 1767.02 L914.26 1770.30 L916.25 1773.58 L918.25 1776.86 L920.24 1780.15 L922.23 1783.43 L924.23 1786.72 L926.22 1790.01 L928.22 1793.30 L930.21 1796.59 L932.20 1799.88 L934.20 1803.18 L936.19 1806.48 L938.18 1809.78 L940.18 1813.08 L942.17 1816.39 L944.16 1819.70 L946.16 1823.01 L948.15 1826.33 L950.14 1829.64 L952.14 1832.97 L954.13 1836.29 L956.12 1839.62 L958.12 1842.95 L960.11 1846.29 L962.10 1849.63 L964.10 1852.97 L966.09 1856.32 L968.08 1859.67 L970.08 1863.03 L972.07 1866.39 L974.07 1869.76 L976.06 1873.13 L978.05 1876.51 L980.05 1879.89 L982.04 1883.27 L984.03 1886.66 L986.03 1890.06 L988.02 1893.46 L990.01 1896.87 L992.01 1900.28 L994.00 1903.70" stroke="#0000ff" stroke-width="4.58"/>
</g>
<g id="bottom-ticks">
<line x1="139.80" y1="1605.90" x2="139.80" y2="1614.20" stroke="#000" stroke-width="1.74" />
<line x1="353.10" y1="1605.90" x2="353.10" y2="1614.20" stroke="#000" stroke-width="1.74" />
<line x1="566.40" y1="1605.90" x2="566.40" y2="1614.20" stroke="#000" stroke-width="1.74" />
<line x1="779.70" y1="1605.90" x2="779.70" y2="1614.20" stroke="#000" stroke-width="1.74" />
<line x1="993.00" y1="1605.90" x2="993.00" y2="1614.20" stroke="#000" stroke-width="1.74" />
<line x1="204.01" y1="1605.90" x2="204.01" y2="1610.90" stroke="#000" stroke-width="1.31" />
<line x1="241.57" y1="1605.90" x2="241.57" y2="1610.90" stroke="#000" stroke-width="1.31" />
<line x1="268.22" y1="1605.90" x2="268.22" y2="1610.90" stroke="#000" stroke-width="1.31" />
<line x1="288.89" y1="1605.90" x2="288.89" y2="1610.90" stroke="#000" stroke-width="1.31" />
<line x1="305.78" y1="1605.90" x2="305.78" y2="1610.90" stroke="#000" stroke-width="1.31" />
<line x1="320.06" y1="1605.90" x2="320.06" y2="1610.90" stroke="#000" stroke-width="1.31" />
<line x1="332.43" y1="1605.90" x2="332.43" y2="1610.90" stroke="#000" stroke-width="1.31" />
<line x1="343.34" y1="1605.90" x2="343.34" y2="1610.90" stroke="#000" stroke-width="1.31" />
<line x1="417.31" y1="1605.90" x2="417.31" y2="1610.90" stroke="#000" stroke-width="1.31" />
<line x1="454.87" y1="1605.90" x2="454.87" y2="1610.90" stroke="#000" stroke-width="1.31" />
<line x1="481.52" y1="1605.90" x2="481.52" y2="1610.90" stroke="#000" stroke-width="1.31" />
<line x1="502.19" y1="1605.90" x2="502.19" y2="1610.90" stroke="#000" stroke-width="1.31" />
<line x1="519.08" y1="1605.90" x2="519.08" y2="1610.90" stroke="#000" stroke-width="1.31" />
<line x1="533.36" y1="1605.90" x2="533.36" y2="1610.90" stroke="#000" stroke-width="1.31" />
<line x1="545.73" y1="1605.90" x2="545.73" y2="1610.90" stroke="#000" stroke-width="1.31" />
<line x1="556.64" y1="1605.90" x2="556.64" y2="1610.90" stroke="#000" stroke-width="1.31" />
<line x1="630.61" y1="1605.90" x2="630.61" y2="1610.90" stroke="#000" stroke-width="1.31" />
<line x1="668.17" y1="1605.90" x2="668.17" y2="1610.90" stroke="#000" stroke-width="1.31" />
<line x1="694.82" y1="1605.90" x2="694.82" y2="1610.90" stroke="#000" stroke-width="1.31" />
<line x1="715.49" y1="1605.90" x2="715.49" y2="1610.90" stroke="#000" stroke-width="1.31" />
<line x1="732.38" y1="1605.90" x2="732.38" y2="1610.90" stroke="#000" stroke-width="1.31" />
<line x1="746.66" y1="1605.90" x2="746.66" y2="1610.90" stroke="#000" stroke-width="1.31" />
<line x1="759.03" y1="1605.90" x2="759.03" y2="1610.90" stroke="#000" stroke-width="1.31" />
<line x1="769.94" y1="1605.90" x2="769.94" y2="1610.90" stroke="#000" stroke-width="1.31" />
<line x1="843.91" y1="1605.90" x2="843.91" y2="1610.90" stroke="#000" stroke-width="1.31" />
<line x1="881.47" y1="1605.90" x2="881.47" y2="1610.90" stroke="#000" stroke-width="1.31" />
<line x1="908.12" y1="1605.90" x2="908.12" y2="1610.90" stroke="#000" stroke-width="1.31" />
<line x1="928.79" y1="1605.90" x2="928.79" y2="1610.90" stroke="#000" stroke-width="1.31" />
<line x1="945.68" y1="1605.90" x2="945.68" y2="1610.90" stroke="#000" stroke-width="1.31" />
<line x1="959.96" y1="1605.90" x2="959.96" y2="1610.90" stroke="#000" stroke-width="1.31" />
<line x1="972.33" y1="1605.90" x2="972.33" y2="1610.90" stroke="#000" stroke-width="1.31" />
<line x1="983.24" y1="1605.90" x2="983.24" y2="1610.90" stroke="#000" stroke-width="1.31" />
<line x1="131.50" y1="1444.90" x2="139.80" y2="1444.90" stroke="#000" stroke-width="1.74" />
<line x1="134.80" y1="1605.90" x2="139.80" y2="1605.90" stroke="#000" stroke-width="1.31" />
<line x1="134.80" y1="1557.32" x2="139.80" y2="1557.32" stroke="#000" stroke-width="1.31" />
<line x1="134.80" y1="1515.23" x2="139.80" y2="1515.23" stroke="#000" stroke-width="1.31" />
<line x1="134.80" y1="1478.11" x2="139.80" y2="1478.11" stroke="#000" stroke-width="1.31" />
<line x1="134.80" y1="1226.45" x2="139.80" y2="1226.45" stroke="#000" stroke-width="1.31" />
<line x1="134.80" y1="1098.66" x2="139.80" y2="1098.66" stroke="#000" stroke-width="1.31" />
<line x1="134.80" y1="1007.99" x2="139.80" y2="1007.99" stroke="#000" stroke-width="1.31" />
<line x1="134.80" y1="937.66" x2="139.80" y2="937.66" stroke="#000" stroke-width="1.31" />
<line x1="134.80" y1="880.20" x2="139.80" y2="880.20" stroke="#000" stroke-width="1.31" />
</g>
<rect x="139.8" y="880.2" width="853.2" height="725.7" fill="none" stroke="#000" stroke-width="1.74"/>
<text x="119.90" y="1643.00" font-size="21.7" text-anchor="start" >10<tspan font-size="15.2" dy="-8.3" dx="-1.0">0</tspan></text>
<text x="333.20" y="1643.00" font-size="21.7" text-anchor="start" >10<tspan font-size="15.2" dy="-8.3" dx="-0.3">1</tspan></text>
<text x="546.50" y="1643.00" font-size="21.7" text-anchor="start" >10<tspan font-size="15.2" dy="-8.3" dx="-0.3">2</tspan></text>
<text x="759.80" y="1643.00" font-size="21.7" text-anchor="start" >10<tspan font-size="15.2" dy="-8.3" dx="-0.3">3</tspan></text>
<text x="973.10" y="1643.00" font-size="21.7" text-anchor="start" >10<tspan font-size="15.2" dy="-8.3" dx="-0.3">4</tspan></text>
<text x="84.70" y="1454.50" font-size="21.7" text-anchor="start" >10<tspan font-size="15.2" dy="-8.3" dx="-0.3">5</tspan></text>
<text x="47.70" y="1616.20" font-size="21.7" text-anchor="start" >6</text>
<text x="74.00" y="1616.20" font-size="21.7" text-anchor="middle" >×</text>
<text x="87.00" y="1616.20" font-size="21.7" text-anchor="start" >10<tspan font-size="15.2" dy="-8.3" dx="0.6">4</tspan></text>
<text x="47.70" y="1236.75" font-size="21.7" text-anchor="start" >2</text>
<text x="74.00" y="1236.75" font-size="21.7" text-anchor="middle" >×</text>
<text x="87.00" y="1236.75" font-size="21.7" text-anchor="start" >10<tspan font-size="15.2" dy="-8.3" dx="0.6">5</tspan></text>
<text x="47.70" y="1108.96" font-size="21.7" text-anchor="start" >3</text>
<text x="74.00" y="1108.96" font-size="21.7" text-anchor="middle" >×</text>
<text x="87.00" y="1108.96" font-size="21.7" text-anchor="start" >10<tspan font-size="15.2" dy="-8.3" dx="0.6">5</tspan></text>
<text x="47.70" y="1018.29" font-size="21.7" text-anchor="start" >4</text>
<text x="74.00" y="1018.29" font-size="21.7" text-anchor="middle" >×</text>
<text x="87.00" y="1018.29" font-size="21.7" text-anchor="start" >10<tspan font-size="15.2" dy="-8.3" dx="0.6">5</tspan></text>
<text x="47.70" y="890.50" font-size="21.7" text-anchor="start" >6</text>
<text x="74.00" y="890.50" font-size="21.7" text-anchor="middle" >×</text>
<text x="87.00" y="890.50" font-size="21.7" text-anchor="start" >10<tspan font-size="15.2" dy="-8.3" dx="0.6">5</tspan></text>
<text x="507.00" y="1695.80" font-size="44.4" text-anchor="start" ><tspan font-style="italic">z</tspan>[AU]</text>
<text transform="translate(25.0 1324.2) rotate(-90) scale(0.98 1.028)" font-size="44.5"><tspan font-style="italic">v</tspan><tspan dx="-1.5">[cm/s]</tspan></text>
<g id="bottom-legend">
<rect x="148.7" y="1383.0" width="341.6" height="213.7" rx="4" ry="4" fill="#fff" fill-opacity="0.8" stroke="#ccc" stroke-opacity="0.8" stroke-width="2.18"/>
<line x1="156.10" y1="1400.40" x2="196.10" y2="1400.40" stroke="#000" stroke-width="2.18" stroke-dasharray="13.97 3.49 2.18 3.49"/>
<line x1="156.10" y1="1435.20" x2="196.10" y2="1435.20" stroke="#ffa500" stroke-width="2.18" stroke-dasharray="13.97 3.49 2.18 3.49"/>
<line x1="156.10" y1="1469.60" x2="196.10" y2="1469.60" stroke="#008000" stroke-width="2.18" stroke-dasharray="13.97 3.49 2.18 3.49"/>
<line x1="156.10" y1="1505.40" x2="196.10" y2="1505.40" stroke="#0000ff" stroke-width="2.18" stroke-dasharray="13.97 3.49 2.18 3.49"/>
<line x1="156.10" y1="1538.70" x2="196.10" y2="1538.70" stroke="#ff0000" stroke-width="2.18" stroke-dasharray="13.97 3.49 2.18 3.49"/>
<line x1="156.10" y1="1571.00" x2="194.90" y2="1571.00" stroke="#ffa500" stroke-width="3.00" stroke-dasharray="12.10 5.23"/>
<text x="212.00" y="1406.10" font-size="20" text-anchor="start" ><tspan font-style="italic">z</tspan><tspan font-size="13.7" dy="3.6" dx="-0.5">esc,</tspan><tspan font-size="13.7" dx="2.4">gas</tspan></text>
<text x="212.00" y="1439.90" font-size="20" text-anchor="start" ><tspan font-style="italic">z</tspan><tspan font-size="13.7" dy="3.6" dx="-0.5">esc,</tspan><tspan font-size="13.7" dx="2.4">10μm</tspan></text>
<text x="212.00" y="1475.70" font-size="20" text-anchor="start" ><tspan font-style="italic">z</tspan><tspan font-size="13.7" dy="3.6" dx="-0.5">esc,</tspan><tspan font-size="13.7" dx="2.4">100μm</tspan></text>
<text x="212.00" y="1509.00" font-size="20" text-anchor="start" ><tspan font-style="italic">z</tspan><tspan font-size="13.7" dy="3.6" dx="-0.5">esc,</tspan><tspan font-size="13.7" dx="2.4">1mm</tspan></text>
<text x="212.00" y="1543.20" font-size="20" text-anchor="start" ><tspan font-style="italic">z</tspan><tspan font-size="13.7" dy="3.6" dx="-0.5">esc,</tspan><tspan font-size="13.7" dx="2.4">1cm</tspan></text>
<text x="212.00" y="1578.50" font-size="20" text-anchor="start" ><tspan font-style="italic">v</tspan><tspan font-size="13.7" dy="3.6" dx="-1.5">all,</tspan><tspan font-size="13.7" dx="3.4">10μm</tspan></text>
<line x1="341.60" y1="1399.80" x2="380.60" y2="1399.80" stroke="#008000" stroke-width="3.00" stroke-dasharray="12.10 5.23"/>
<line x1="341.60" y1="1434.60" x2="380.60" y2="1434.60" stroke="#0000ff" stroke-width="3.00" stroke-dasharray="12.10 5.23"/>
<line x1="341.60" y1="1467.60" x2="380.60" y2="1467.60" stroke="#ff0000" stroke-width="3.00" stroke-dasharray="12.10 5.23"/>
<line x1="341.60" y1="1502.00" x2="380.60" y2="1502.00" stroke="#000" stroke-width="3.27" stroke-linecap="square"/>
<line x1="342.40" y1="1537.20" x2="381.60" y2="1537.20" stroke="#0000ff" stroke-width="4.58" stroke-linecap="square"/>
<text x="398.00" y="1407.10" font-size="20" text-anchor="start" ><tspan font-style="italic">v</tspan><tspan font-size="13.7" dy="3.6" dx="-1.5">all,</tspan><tspan font-size="13.7" dx="3.4">100μm</tspan></text>
<text x="398.00" y="1439.80" font-size="20" text-anchor="start" ><tspan font-style="italic">v</tspan><tspan font-size="13.7" dy="3.6" dx="-1.5">all,</tspan><tspan font-size="13.7" dx="3.4">1mm</tspan></text>
<text x="398.00" y="1474.20" font-size="20" text-anchor="start" ><tspan font-style="italic">v</tspan><tspan font-size="13.7" dy="3.6" dx="-1.5">all,</tspan><tspan font-size="13.7" dx="3.4">1cm</tspan></text>
<text x="398.00" y="1508.30" font-size="20" text-anchor="start" ><tspan font-style="italic">v</tspan><tspan font-size="13.7" dy="3.6" dx="-1.5">g,</tspan><tspan font-size="13.7" dx="3.4">all</tspan></text>
<text x="398.00" y="1541.00" font-size="20" text-anchor="start" ><tspan font-style="italic">v</tspan><tspan font-size="13.7" dy="3.6" dx="-1.5">esc</tspan></text>
</g>
</g>
</svg>
</body></html>
